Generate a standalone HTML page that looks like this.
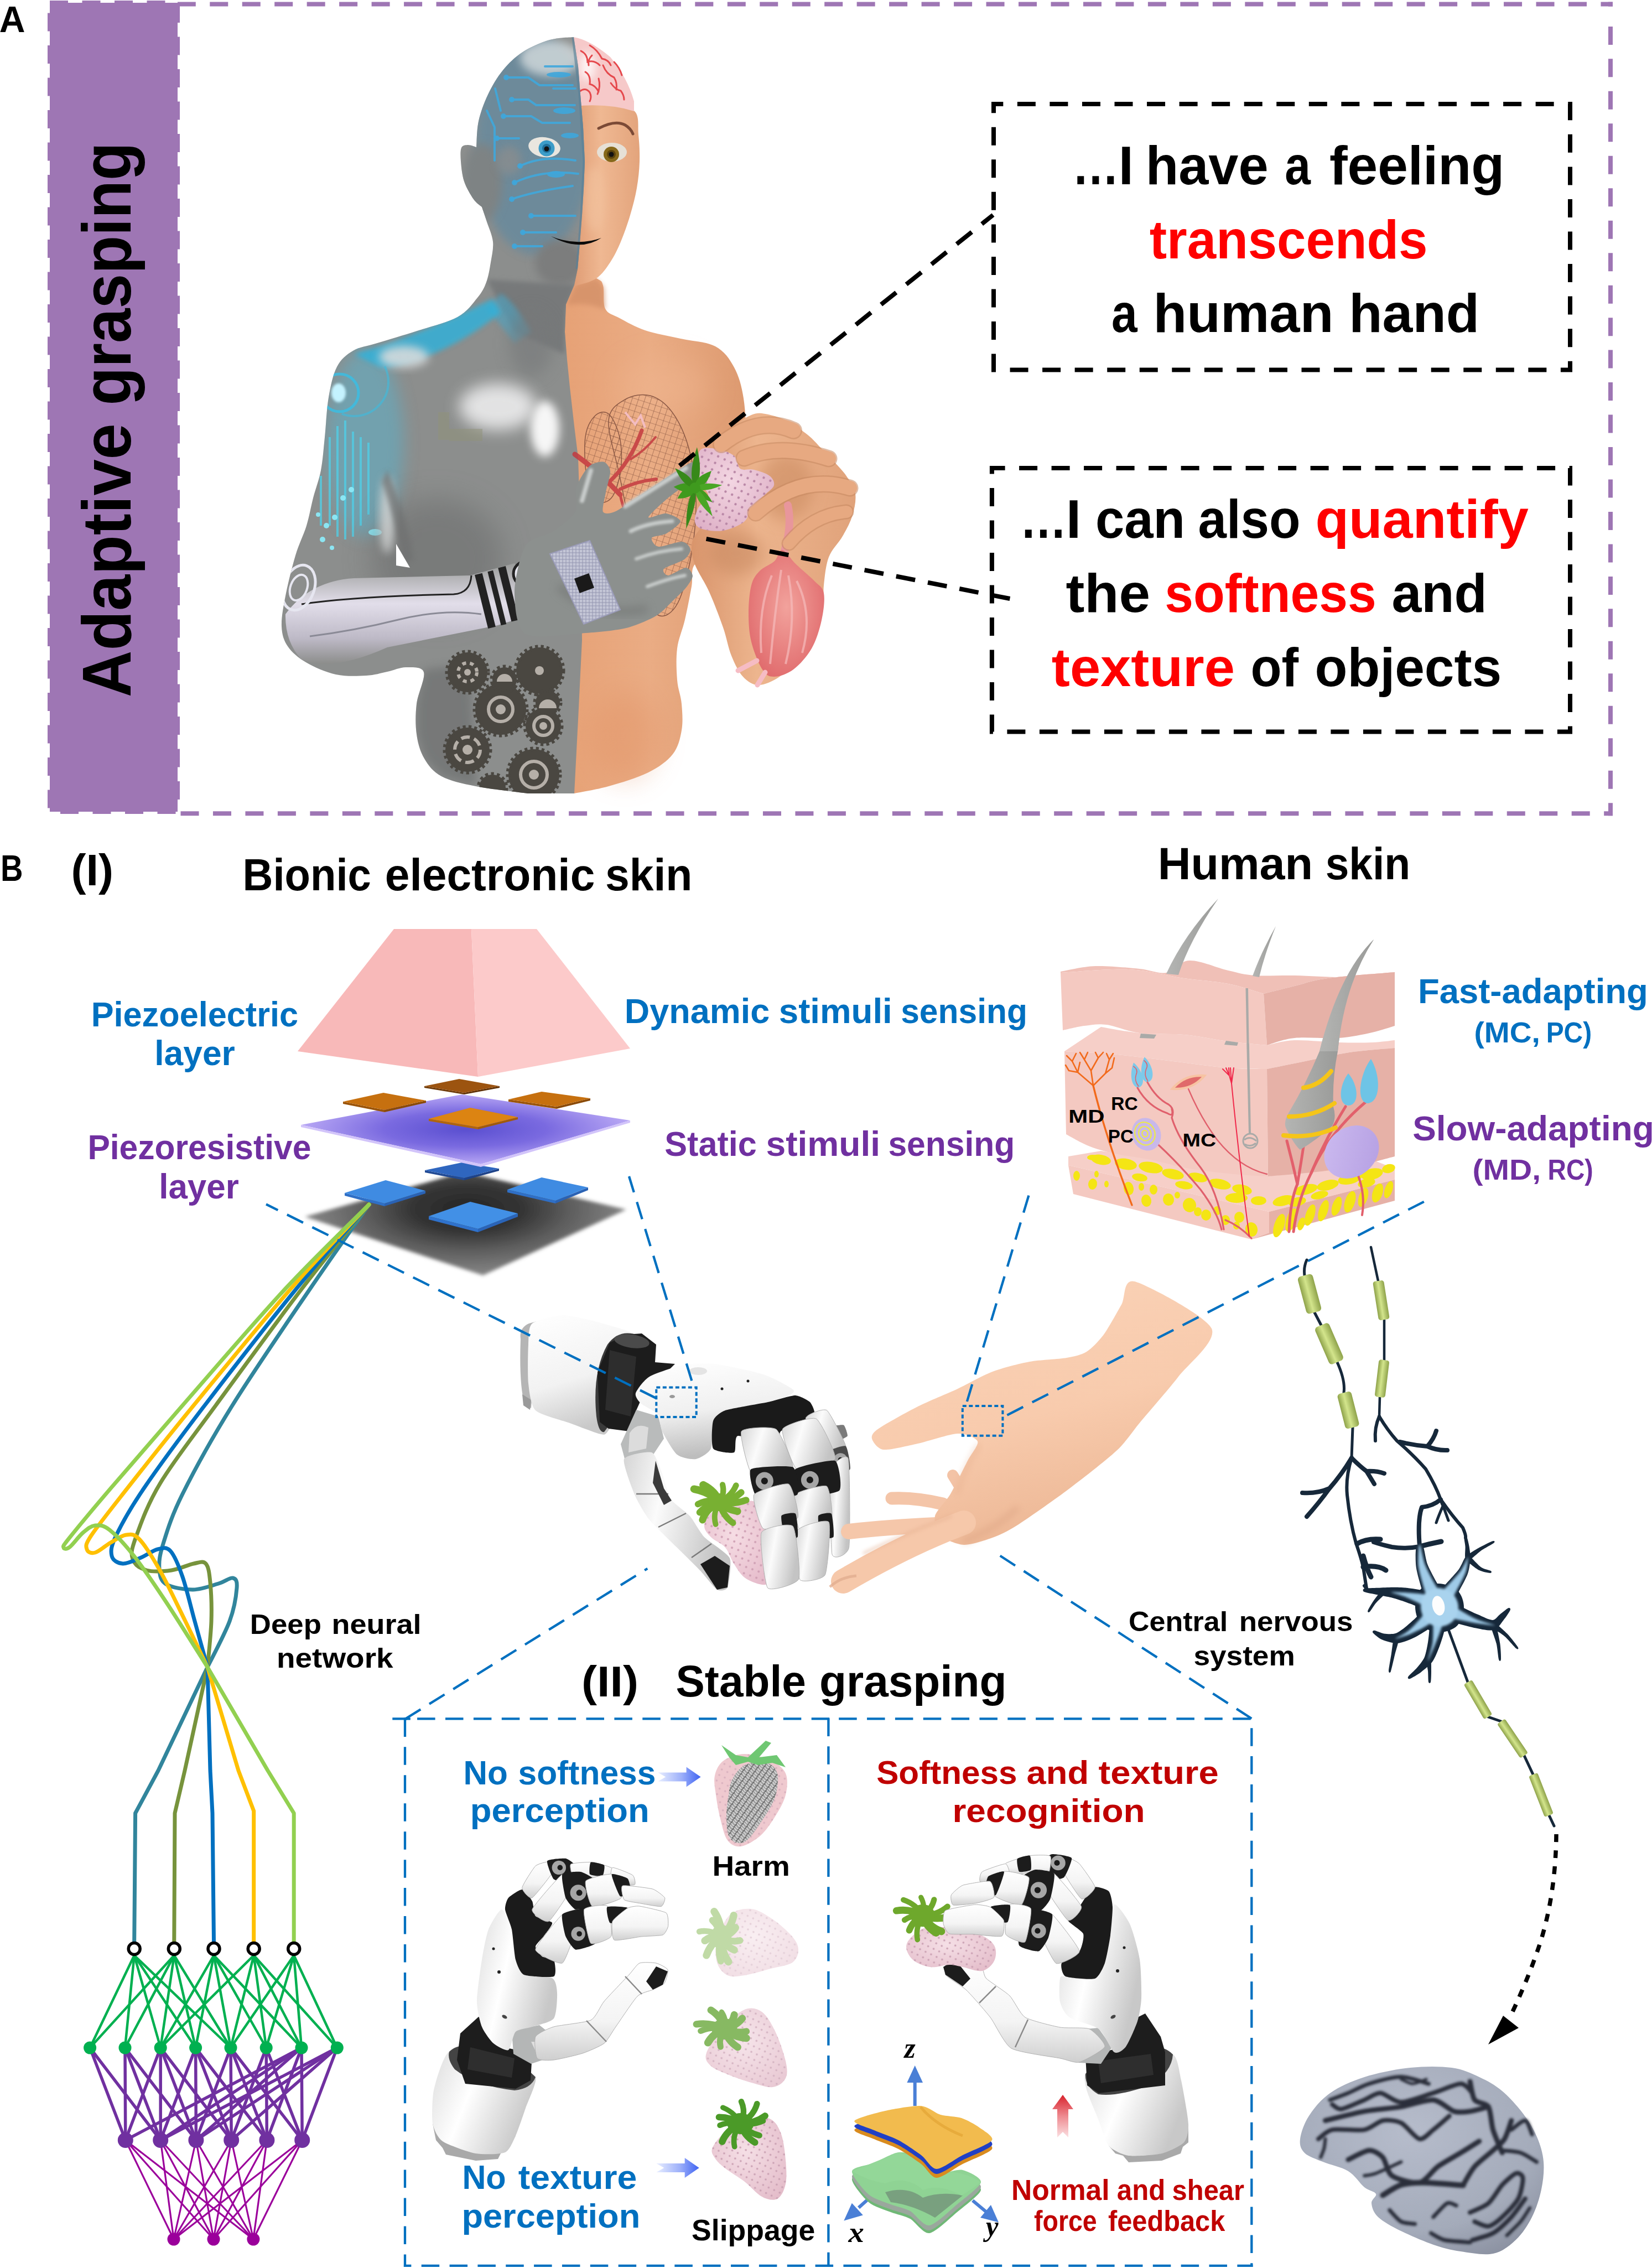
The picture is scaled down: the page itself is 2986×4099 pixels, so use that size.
<!DOCTYPE html>
<html lang="en"><head><meta charset="utf-8"><title>Figure</title>
<style>
html,body{margin:0;padding:0;background:#fff;}
body{width:2986px;height:4099px;overflow:hidden;}
svg{display:block}
text{font-family:"Liberation Sans",sans-serif;font-weight:bold;}
.ser{font-family:"Liberation Serif",serif;font-style:italic;font-weight:bold;}
</style></head><body>
<svg xmlns="http://www.w3.org/2000/svg" width="2986" height="4099" viewBox="0 0 2986 4099">
<!-- 10_frame.svg -->
<rect x="90" y="5" width="231" height="1462" fill="#9E76B4" stroke="#9E76B4" stroke-width="8" stroke-dasharray="33 25.5"/>
<path d="M321 7.6 H2915" fill="none" stroke="#9E76B4" stroke-width="8" stroke-dasharray="33 25.47" stroke-dashoffset="0.20"/>
<path d="M2911 3.6 V11.6" fill="none" stroke="#9E76B4" stroke-width="8" stroke-dasharray="33 25.47" stroke-dashoffset="0.00"/>
<path d="M2911 47.9 V1474.3" fill="none" stroke="#9E76B4" stroke-width="8" stroke-dasharray="33 25.47" stroke-dashoffset="0.00"/>
<path d="M325 1470.3 H2915" fill="none" stroke="#9E76B4" stroke-width="8" stroke-dasharray="33 25.47" stroke-dashoffset="56.97"/>
<path d="M1796 203.8 V188.1 H2838 V668.6 H1796 Z" fill="none" stroke="#000" stroke-width="8" stroke-dasharray="33 25.55"/>
<path d="M1792.9 855.2 V845.9 H2838 V1322.4 H1792.9 Z" fill="none" stroke="#000" stroke-width="8" stroke-dasharray="33 25.5"/>
<!-- 20_humanoid.svg -->
<defs>
<filter id="b2" x="-20%" y="-20%" width="140%" height="140%"><feGaussianBlur stdDeviation="2"/></filter>
<filter id="b4" x="-20%" y="-20%" width="140%" height="140%"><feGaussianBlur stdDeviation="4"/></filter>
<filter id="b8" x="-30%" y="-30%" width="160%" height="160%"><feGaussianBlur stdDeviation="8"/></filter>
<filter id="b14" x="-40%" y="-40%" width="180%" height="180%"><feGaussianBlur stdDeviation="14"/></filter>
<filter id="b25" x="-50%" y="-50%" width="200%" height="200%"><feGaussianBlur stdDeviation="25"/></filter>
<linearGradient id="gSkin" x1="0" y1="0" x2="1" y2="0"><stop offset="0" stop-color="#e6a074"/><stop offset=".5" stop-color="#eaac84"/><stop offset="1" stop-color="#dd9a70"/></linearGradient>
<linearGradient id="gFace" x1="0" y1="0" x2="1" y2="0"><stop offset="0" stop-color="#dd9870"/><stop offset=".45" stop-color="#efb892"/><stop offset="1" stop-color="#e3a47c"/></linearGradient>
<linearGradient id="gArm" x1="0" y1="0" x2="0" y2="1"><stop offset="0" stop-color="#9a9c9a"/><stop offset=".4" stop-color="#e2deea"/><stop offset=".75" stop-color="#bdb9c6"/><stop offset="1" stop-color="#8c8d8b"/></linearGradient>
<linearGradient id="gHArm" x1="0" y1="0" x2="1" y2="0"><stop offset="0" stop-color="#d9956c"/><stop offset=".4" stop-color="#edb58e"/><stop offset="1" stop-color="#e0a27a"/></linearGradient>
<radialGradient id="gMus" cx=".5" cy=".45" r=".6"><stop offset="0" stop-color="#f2a29c"/><stop offset="1" stop-color="#e06a6c"/></radialGradient>
<radialGradient id="gBerry" cx=".45" cy=".4" r=".65"><stop offset="0" stop-color="#f3d6e2"/><stop offset="1" stop-color="#dfb2c8"/></radialGradient>
<pattern id="pDots" width="13" height="13" patternUnits="userSpaceOnUse" patternTransform="rotate(25)"><circle cx="4" cy="4" r="2.2" fill="#b987a6"/></pattern>
<pattern id="pMesh" width="11" height="11" patternUnits="userSpaceOnUse" patternTransform="rotate(18)"><path d="M0 0H11M0 0V11" stroke="#7a4a3a" stroke-width="1.2" fill="none"/></pattern>
<pattern id="pChip" width="6" height="6" patternUnits="userSpaceOnUse"><rect width="6" height="6" fill="#c4c6d6"/><path d="M0 3H6M3 0V6" stroke="#9395b0" stroke-width="1"/></pattern>

<clipPath id="cRob"><path d="M1037.0 67.0 L1045.0 120.0 L1049.0 171.0 L1054.0 230.0 L1057.0 292.0 L1055.0 340.0 L1052.0 389.0 L1048.0 440.0 L1044.0 486.0 L1038.0 515.0 L1023.0 550.0 L1021.0 600.0 L1025.0 650.0 L1030.0 700.0 L1038.0 770.0 L1045.0 827.0 L1047.0 890.0 L1050.0 1000.0 L1052.0 1157.0 L1045.0 1300.0 L1038.0 1434.0 L954.0 1434.0 C938.3 1431.8 886.0 1426.2 860.0 1421.0 C834.0 1415.8 813.5 1411.3 798.0 1403.0 C782.5 1394.7 774.5 1383.7 767.0 1371.0 C759.5 1358.3 755.3 1343.5 753.0 1327.0 C750.7 1310.5 750.8 1290.7 753.0 1272.0 C755.2 1253.3 769.2 1226.0 766.0 1215.0 C762.8 1204.0 745.0 1206.2 734.0 1206.0 C723.0 1205.8 712.0 1211.5 700.0 1214.0 C688.0 1216.5 677.5 1220.2 662.0 1221.0 C646.5 1221.8 625.2 1223.0 607.0 1219.0 C588.8 1215.0 567.5 1205.5 553.0 1197.0 C538.5 1188.5 527.3 1178.8 520.0 1168.0 C512.7 1157.2 509.7 1147.2 509.0 1132.0 C508.3 1116.8 511.8 1098.3 516.0 1077.0 C520.2 1055.7 527.7 1025.2 534.0 1004.0 C540.3 982.8 548.7 967.3 554.0 950.0 C559.3 932.7 561.7 916.7 566.0 900.0 C570.3 883.3 576.5 868.3 580.0 850.0 C583.5 831.7 584.7 812.0 587.0 790.0 C589.3 768.0 590.3 739.2 594.0 718.0 C597.7 696.8 601.7 677.0 609.0 663.0 C616.3 649.0 625.8 641.2 638.0 634.0 C650.2 626.8 662.7 626.0 682.0 620.0 C701.3 614.0 729.8 605.8 754.0 598.0 C778.2 590.2 808.8 583.0 827.0 573.0 C845.2 563.0 854.3 548.5 863.0 538.0 C871.7 527.5 875.0 520.7 879.0 510.0 C883.0 499.3 885.0 486.2 887.0 474.0 C889.0 461.8 892.2 449.2 891.0 437.0 C889.8 424.8 883.3 411.5 880.0 401.0 C876.7 390.5 872.5 378.5 871.0 374.0 L871.0 374.0 C868.5 371.7 861.3 367.7 856.0 360.0 C850.7 352.3 842.8 339.3 839.0 328.0 C835.2 316.7 833.8 302.2 833.0 292.0 C832.2 281.8 831.8 272.0 834.0 267.0 C836.2 262.0 841.5 262.2 846.0 262.0 C850.5 261.8 858.5 265.3 861.0 266.0 L861.0 266.0 C861.7 258.2 861.5 234.8 865.0 219.0 C868.5 203.2 874.7 186.3 882.0 171.0 C889.3 155.7 898.5 139.8 909.0 127.0 C919.5 114.2 930.8 103.2 945.0 94.0 C959.2 84.8 978.7 76.5 994.0 72.0 C1009.3 67.5 1029.8 67.8 1037.0 67.0 Z"/></clipPath>
</defs>
<g id="humanoid">
<path d="M1030.0 480.0 C1038.0 483.8 1068.0 497.0 1078.0 503.0 C1088.0 509.0 1087.3 506.8 1090.0 516.0 C1092.7 525.2 1089.0 548.2 1094.0 558.0 C1099.0 567.8 1108.0 568.5 1120.0 575.0 C1132.0 581.5 1147.7 590.8 1166.0 597.0 C1184.3 603.2 1208.8 607.2 1230.0 612.0 C1251.2 616.8 1276.8 617.3 1293.0 626.0 C1309.2 634.7 1318.5 648.3 1327.0 664.0 C1335.5 679.7 1340.5 697.3 1344.0 720.0 C1347.5 742.7 1348.7 770.0 1348.0 800.0 C1347.3 830.0 1348.0 866.7 1340.0 900.0 C1332.0 933.3 1314.0 980.0 1300.0 1000.0 C1286.0 1020.0 1264.3 1010.0 1256.0 1020.0 C1247.7 1030.0 1253.0 1043.3 1250.0 1060.0 C1247.0 1076.7 1242.3 1101.3 1238.0 1120.0 C1233.7 1138.7 1226.3 1153.8 1224.0 1172.0 C1221.7 1190.2 1222.7 1212.3 1224.0 1229.0 C1225.3 1245.7 1230.7 1256.8 1232.0 1272.0 C1233.3 1287.2 1234.7 1304.8 1232.0 1320.0 C1229.3 1335.2 1226.0 1350.3 1216.0 1363.0 C1206.0 1375.7 1191.3 1386.3 1172.0 1396.0 C1152.7 1405.7 1122.3 1414.7 1100.0 1421.0 C1077.7 1427.3 1048.3 1431.8 1038.0 1434.0 L1020.0 1434.0 L1000.0 900.0 L1000.0 480.0 Z" fill="url(#gSkin)"/>
<ellipse cx="1130" cy="1330" rx="60" ry="80" fill="#e08f62" opacity=".35" filter="url(#b25)"/>
<ellipse cx="1200" cy="700" rx="80" ry="50" fill="#f0b690" opacity=".5" filter="url(#b25)"/>
<path d="M1040 515 L1078 503 L1092 520 L1094 560 Q1060 545 1024 552 Z" fill="#d18e66" opacity=".7" filter="url(#b4)"/>
<path d="M1037.0 185.0 C1047.0 166.7 1071.8 187.5 1090.0 190.0 C1108.2 192.5 1135.3 191.0 1146.0 200.0 C1156.7 209.0 1152.3 228.7 1154.0 244.0 C1155.7 259.3 1156.5 276.0 1156.0 292.0 C1155.5 308.0 1153.8 323.8 1151.0 340.0 C1148.2 356.2 1143.8 372.8 1139.0 389.0 C1134.2 405.2 1128.0 422.8 1122.0 437.0 C1116.0 451.2 1110.3 463.0 1103.0 474.0 C1095.7 485.0 1088.2 496.0 1078.0 503.0 C1067.8 510.0 1050.0 513.8 1042.0 516.0 C1034.0 518.2 1032.0 552.0 1030.0 516.0 C1028.0 480.0 1028.8 355.2 1030.0 300.0 C1031.2 244.8 1027.0 203.3 1037.0 185.0 Z" fill="url(#gFace)"/>
<ellipse cx="1075" cy="360" rx="18" ry="60" fill="#f3c4a0" opacity=".6" filter="url(#b8)"/>
<path d="M1037 67 Q1066 72 1103 103 Q1134 140 1146 183 L1146 201 Q1100 186 1037 192 Z" fill="#f6c9c9"/>
<ellipse cx="1062" cy="120" rx="14" ry="26" fill="#fff" opacity=".8" filter="url(#b8)"/>
<g fill="none" stroke="#e5484c" stroke-width="3" stroke-linecap="round">
<path d="M1050 92 q12 6 12 20 q12 -4 22 6 M1066 82 q14 8 22 24 q12 2 16 12 M1058 130 q10 6 8 22 q10 2 16 14 M1090 118 q6 16 20 22 q6 10 4 22 M1048 165 q10 -8 18 2 q4 8 0 16 M1104 150 q8 12 18 14 q6 8 6 16 M1082 142 q4 14 -2 28 M1110 112 q10 10 14 24 M1070 100 q-8 8 -6 18"/>
</g>
<g clip-path="url(#cRob)">
<rect x="480" y="50" width="600" height="1400" fill="#8c8e8d"/>
<ellipse cx="965" cy="260" rx="105" ry="200" fill="#668a9e" opacity=".8" filter="url(#b8)"/>
<ellipse cx="995" cy="105" rx="55" ry="32" fill="#d5dcde" opacity=".8" filter="url(#b8)"/>
<ellipse cx="1012" cy="475" rx="45" ry="42" fill="#7b7d7d" filter="url(#b8)"/>
<ellipse cx="872" cy="330" rx="36" ry="70" fill="#7e8384" filter="url(#b8)"/>
<ellipse cx="920" cy="290" rx="22" ry="26" fill="#8a8d8e" opacity=".8" filter="url(#b8)"/>
<g fill="none" stroke="#3fa7dc" stroke-width="4" stroke-linecap="round" opacity=".9">
<path d="M915 140 h40 l20 14 h60 M925 180 h30 l14 10 h70 M910 210 h50 l20 12 h50 M898 250 h40 M940 300 q40 -20 100 -10 M930 330 q50 -24 115 -16 M925 360 q40 -14 110 -24 M960 390 h80 M945 420 h60 M930 445 h50 M985 120 h50 M1000 160 h40 M880 200 l14 30 v60 M895 160 l10 40"/>
</g>
<g fill="#3fa7dc" opacity=".9"><circle cx="915" cy="140" r="5"/><circle cx="925" cy="180" r="5"/><circle cx="910" cy="210" r="5"/><circle cx="898" cy="250" r="5"/><circle cx="940" cy="300" r="5"/><circle cx="930" cy="330" r="5"/><circle cx="925" cy="360" r="5"/><circle cx="960" cy="390" r="5"/><circle cx="945" cy="420" r="5"/><circle cx="930" cy="445" r="5"/><ellipse cx="1020" cy="200" rx="20" ry="6"/><ellipse cx="1030" cy="245" rx="16" ry="5"/><ellipse cx="1010" cy="135" rx="22" ry="5"/><ellipse cx="1005" cy="315" rx="16" ry="6"/></g>
<path d="M880 505 L1040 515 L1023 560 L1020 640 L930 600 Z" fill="#77797a" filter="url(#b4)"/>
<path d="M905 530 Q930 545 960 600 L930 620 Q900 580 880 560 Z" fill="#4aa5c6" opacity=".6" filter="url(#b4)"/>
<ellipse cx="660" cy="800" rx="70" ry="170" fill="#59b4cf" opacity=".5" filter="url(#b14)"/>
<path d="M640 640 Q760 605 890 540 L905 565 Q800 650 690 665 Z" fill="#2fb2dc" opacity=".8" filter="url(#b4)"/>
<ellipse cx="730" cy="645" rx="45" ry="20" fill="#d5dadb" opacity=".9" filter="url(#b8)"/>
<ellipse cx="612" cy="710" rx="13" ry="17" fill="#c4f3ff" filter="url(#b2)"/>
<circle cx="614" cy="710" r="34" fill="none" stroke="#37bfe6" stroke-width="5" opacity=".8"/><circle cx="640" cy="690" r="62" fill="none" stroke="#37bfe6" stroke-width="4" opacity=".55" stroke-dasharray="120 60"/>
<g stroke="#4fd0e8" stroke-width="4" opacity=".75" fill="none"><path d="M596 790 v160 M610 770 v200 M624 760 v215 M638 780 v190 M652 790 v160 M666 800 v130 M580 860 v90"/></g>
<g fill="#8deaf8" opacity=".95"><circle cx="590" cy="950" r="5"/><circle cx="605" cy="935" r="5"/><circle cx="620" cy="900" r="5"/><circle cx="583" cy="975" r="5"/><circle cx="635" cy="885" r="5"/><circle cx="575" cy="930" r="4"/><ellipse cx="678" cy="962" rx="12" ry="6"/><circle cx="600" cy="990" r="4"/></g>
<ellipse cx="790" cy="1010" rx="120" ry="110" fill="#6a6c6c" opacity=".55" filter="url(#b25)"/>
<ellipse cx="960" cy="620" rx="40" ry="60" fill="#77797a" opacity=".6" filter="url(#b14)"/>
<ellipse cx="900" cy="735" rx="70" ry="42" fill="#ececed" opacity=".9" filter="url(#b14)"/>
<ellipse cx="985" cy="775" rx="26" ry="50" fill="#f6f6f6" filter="url(#b8)"/>
<ellipse cx="700" cy="930" rx="14" ry="70" fill="#cfd1d1" opacity=".85" filter="url(#b8)"/>
<path d="M700 850 Q735 930 747 1010 L730 1020 Q715 940 690 870 Z" fill="#6f7171" opacity=".7" filter="url(#b4)"/>
<path d="M716 983 L741 1026 L716 1022 Z" fill="#fff"/>
<rect x="792" y="745" width="20" height="50" fill="#8f9178" opacity=".5"/><rect x="812" y="775" width="60" height="22" fill="#8f9178" opacity=".5"/>
<path d="M516 1110 Q560 1050 640 1045 L850 1040 L930 1018 L980 1105 L900 1130 L700 1170 Q600 1215 545 1192 Q515 1160 516 1110 Z" fill="url(#gArm)"/>
<path d="M545 1092 Q640 1078 820 1074 Q850 1072 852 1040" fill="none" stroke="#222" stroke-width="3"/>
<path d="M560 1150 Q640 1140 720 1120 Q800 1100 870 1110" fill="none" stroke="#8a8a96" stroke-width="3"/>
<g transform="rotate(20 540 1062)" fill="none" stroke="#e6e6f0"><ellipse cx="540" cy="1062" rx="28" ry="42" stroke-width="5"/><ellipse cx="540" cy="1062" rx="15" ry="24" stroke-width="4"/></g>
<g transform="rotate(-14 900 1075)" fill="#222"><rect x="868" y="1030" width="14" height="100"/><rect x="892" y="1030" width="10" height="100"/><rect x="912" y="1028" width="14" height="100"/></g>
<circle cx="950" cy="1037" r="22" fill="#e8e8f0" stroke="#222" stroke-width="5"/><circle cx="950" cy="1037" r="9" fill="#222"/>
<path d="M766 1210 L753 1272 L753 1327 L767 1371 L798 1403 L860 1421 L850 1200 Z" fill="#6c6e6e" opacity=".65" filter="url(#b8)"/>
<g fill="#4a4741" stroke="#4a4741" stroke-width="9" stroke-dasharray="5 5">
<circle cx="845" cy="1215" r="36"/><circle cx="975" cy="1212" r="42"/><circle cx="905" cy="1282" r="46"/><circle cx="982" cy="1312" r="32"/><circle cx="845" cy="1355" r="40"/><circle cx="965" cy="1400" r="46"/><circle cx="912" cy="1228" r="22"/><circle cx="890" cy="1424" r="24"/><circle cx="990" cy="1270" r="22"/>
</g>
<g fill="#b5afa8"><circle cx="975" cy="1212" r="8"/><circle cx="905" cy="1282" r="9"/><circle cx="982" cy="1312" r="7"/><circle cx="845" cy="1355" r="9"/><circle cx="965" cy="1400" r="9"/><circle cx="845" cy="1215" r="6"/><path d="M898 1232 a14 14 0 0 1 28 0 Z"/><path d="M974 1280 a16 16 0 0 1 32 0 Z"/></g>
<g fill="none" stroke="#b5afa8" stroke-width="6"><circle cx="905" cy="1282" r="22"/><circle cx="982" cy="1312" r="17"/><circle cx="965" cy="1400" r="24"/><circle cx="845" cy="1355" r="23" stroke-dasharray="16 8"/><circle cx="845" cy="1215" r="17" stroke-dasharray="7 7"/></g>
<path d="M1037 67 L1049 171 L1057 292 L1052 389 L1044 486" fill="none" stroke="#56809a" stroke-width="7" opacity=".6"/>
</g>
<ellipse cx="984" cy="266" rx="29" ry="18" fill="#e9e6df" transform="rotate(8 984 266)"/><circle cx="988" cy="268" r="14.5" fill="#3c9cc8"/><circle cx="988" cy="268" r="8" fill="#1f6f9a"/><circle cx="988" cy="269" r="4.5" fill="#111"/>
<ellipse cx="1106" cy="275" rx="27" ry="17" fill="#e6e0d6"/><circle cx="1105" cy="279" r="14" fill="#86681a"/><circle cx="1105" cy="279" r="8" fill="#5a430c"/><circle cx="1105" cy="279" r="4.5" fill="#111"/>
<path d="M1082 232 Q1112 216 1130 226 Q1140 232 1144 242" fill="none" stroke="#7b4a36" stroke-width="5" stroke-linecap="round"/>
<path d="M996 427 Q1042 446 1087 430 Q1048 456 996 427 Z" fill="#0a0a0a"/>
<g opacity=".85">
<path d="M1100.0 760.0 C1101.7 737.0 1117.5 729.5 1130.0 722.0 C1142.5 714.5 1160.8 711.2 1175.0 715.0 C1189.2 718.8 1203.3 729.2 1215.0 745.0 C1226.7 760.8 1237.8 784.2 1245.0 810.0 C1252.2 835.8 1257.2 868.3 1258.0 900.0 C1258.8 931.7 1255.5 968.3 1250.0 1000.0 C1244.5 1031.7 1235.0 1071.3 1225.0 1090.0 C1215.0 1108.7 1200.8 1117.0 1190.0 1112.0 C1179.2 1107.0 1168.3 1085.3 1160.0 1060.0 C1151.7 1034.7 1146.7 993.3 1140.0 960.0 C1133.3 926.7 1126.7 893.3 1120.0 860.0 C1113.3 826.7 1098.3 783.0 1100.0 760.0 Z" fill="url(#pMesh)" stroke="#7a4a3a" stroke-width="1.5"/>
<path d="M1058.0 790.0 C1060.5 772.0 1068.0 759.0 1075.0 752.0 C1082.0 745.0 1092.5 741.7 1100.0 748.0 C1107.5 754.3 1116.3 773.0 1120.0 790.0 C1123.7 807.0 1124.5 831.7 1122.0 850.0 C1119.5 868.3 1112.8 890.8 1105.0 900.0 C1097.2 909.2 1082.5 911.7 1075.0 905.0 C1067.5 898.3 1062.8 879.2 1060.0 860.0 C1057.2 840.8 1055.5 808.0 1058.0 790.0 Z" fill="url(#pMesh)" stroke="#7a4a3a" stroke-width="1.5"/>
<g fill="none" stroke="#c43a40" stroke-linecap="round"><path d="M1039 821 Q1080 850 1121 894" stroke-width="9"/><path d="M1100 872 Q1140 835 1160 778" stroke-width="7"/><path d="M1121 884 Q1150 870 1186 866" stroke-width="6"/><path d="M1140 830 Q1165 815 1185 790" stroke-width="4"/><path d="M1121 894 Q1128 930 1150 960" stroke-width="5"/></g>
<path d="M1130 745 l18 22 l10 -16 l8 22" fill="none" stroke="#f5c0cc" stroke-width="4"/>
</g>
<path d="M1294.0 798.0 C1297.7 781.8 1311.3 781.0 1322.0 773.0 C1332.7 765.0 1347.8 754.2 1358.0 750.0 C1368.2 745.8 1372.5 746.3 1383.0 748.0 C1393.5 749.7 1408.2 753.7 1421.0 760.0 C1433.8 766.3 1449.3 777.5 1460.0 786.0 C1470.7 794.5 1476.7 802.5 1485.0 811.0 C1493.3 819.5 1502.3 828.5 1510.0 837.0 C1517.7 845.5 1525.0 852.8 1531.0 862.0 C1537.0 871.2 1544.3 880.5 1546.0 892.0 C1547.7 903.5 1544.8 918.2 1541.0 931.0 C1537.2 943.8 1530.2 956.3 1523.0 969.0 C1515.8 981.7 1503.7 992.2 1498.0 1007.0 C1492.3 1021.8 1490.7 1043.2 1489.0 1058.0 C1487.3 1072.8 1490.8 1081.2 1488.0 1096.0 C1485.2 1110.8 1478.8 1132.2 1472.0 1147.0 C1465.2 1161.8 1457.5 1172.3 1447.0 1185.0 C1436.5 1197.7 1421.7 1214.2 1409.0 1223.0 C1396.3 1231.8 1382.0 1238.0 1371.0 1238.0 C1360.0 1238.0 1351.2 1231.8 1343.0 1223.0 C1334.8 1214.2 1328.0 1199.8 1322.0 1185.0 C1316.0 1170.2 1313.7 1153.2 1307.0 1134.0 C1300.3 1114.8 1290.5 1089.0 1282.0 1070.0 C1273.5 1051.0 1261.3 1034.2 1256.0 1020.0 C1250.7 1005.8 1249.0 995.0 1250.0 985.0 C1251.0 975.0 1255.3 969.2 1262.0 960.0 C1268.7 950.8 1283.7 945.0 1290.0 930.0 C1296.3 915.0 1299.3 892.0 1300.0 870.0 C1300.7 848.0 1290.3 814.2 1294.0 798.0 Z" fill="url(#gHArm)"/>
<ellipse cx="1330" cy="1000" rx="50" ry="40" fill="#c98a62" opacity=".6" filter="url(#b14)"/>
<ellipse cx="1420" cy="880" rx="50" ry="60" fill="#c9895f" opacity=".55" filter="url(#b14)"/>
<path d="M1424 913 Q1432 950 1418 996" fill="none" stroke="#e8969c" stroke-width="14" stroke-linecap="round"/>
<path d="M1414.0 994.0 C1420.5 995.0 1429.3 1010.7 1439.0 1020.0 C1448.7 1029.3 1463.7 1041.3 1472.0 1050.0 C1480.3 1058.7 1486.8 1060.2 1489.0 1072.0 C1491.2 1083.8 1488.7 1104.3 1485.0 1121.0 C1481.3 1137.7 1475.5 1157.2 1467.0 1172.0 C1458.5 1186.8 1445.3 1201.5 1434.0 1210.0 C1422.7 1218.5 1408.3 1223.0 1399.0 1223.0 C1389.7 1223.0 1384.8 1220.5 1378.0 1210.0 C1371.2 1199.5 1362.2 1177.0 1358.0 1160.0 C1353.8 1143.0 1353.0 1125.0 1353.0 1108.0 C1353.0 1091.0 1354.7 1070.7 1358.0 1058.0 C1361.3 1045.3 1366.0 1039.3 1373.0 1032.0 C1380.0 1024.7 1393.2 1020.3 1400.0 1014.0 C1406.8 1007.7 1407.5 993.0 1414.0 994.0 Z" fill="url(#gMus)"/>
<g fill="none" stroke="#f6bcbc" stroke-width="4" opacity=".7"><path d="M1412 1030 Q1400 1110 1392 1200"/><path d="M1425 1040 Q1440 1120 1420 1200"/><path d="M1440 1050 Q1470 1110 1450 1180"/><path d="M1395 1040 Q1370 1100 1376 1180"/></g>
<path d="M1368 1194 L1334 1212" stroke="#f6bcc4" stroke-width="9" stroke-linecap="round"/><path d="M1383 1215 L1369 1238" stroke="#f6bcc4" stroke-width="9" stroke-linecap="round"/>
<path d="M1264.0 816.0 C1269.0 806.5 1283.5 809.7 1294.0 811.0 C1304.5 812.3 1319.7 818.0 1327.0 824.0 C1334.3 830.0 1332.0 842.8 1338.0 847.0 C1344.0 851.2 1354.2 846.8 1363.0 849.0 C1371.8 851.2 1385.0 855.3 1391.0 860.0 C1397.0 864.7 1400.2 871.5 1399.0 877.0 C1397.8 882.5 1390.8 886.2 1384.0 893.0 C1377.2 899.8 1364.5 909.7 1358.0 918.0 C1351.5 926.3 1353.5 936.2 1345.0 943.0 C1336.5 949.8 1319.7 956.8 1307.0 959.0 C1294.3 961.2 1277.5 958.7 1269.0 956.0 C1260.5 953.3 1257.2 949.3 1256.0 943.0 C1254.8 936.7 1258.0 926.0 1262.0 918.0 C1266.0 910.0 1279.7 903.3 1280.0 895.0 C1280.3 886.7 1266.7 881.2 1264.0 868.0 C1261.3 854.8 1259.0 825.5 1264.0 816.0 Z" fill="url(#gBerry)"/><path d="M1264.0 816.0 C1269.0 806.5 1283.5 809.7 1294.0 811.0 C1304.5 812.3 1319.7 818.0 1327.0 824.0 C1334.3 830.0 1332.0 842.8 1338.0 847.0 C1344.0 851.2 1354.2 846.8 1363.0 849.0 C1371.8 851.2 1385.0 855.3 1391.0 860.0 C1397.0 864.7 1400.2 871.5 1399.0 877.0 C1397.8 882.5 1390.8 886.2 1384.0 893.0 C1377.2 899.8 1364.5 909.7 1358.0 918.0 C1351.5 926.3 1353.5 936.2 1345.0 943.0 C1336.5 949.8 1319.7 956.8 1307.0 959.0 C1294.3 961.2 1277.5 958.7 1269.0 956.0 C1260.5 953.3 1257.2 949.3 1256.0 943.0 C1254.8 936.7 1258.0 926.0 1262.0 918.0 C1266.0 910.0 1279.7 903.3 1280.0 895.0 C1280.3 886.7 1266.7 881.2 1264.0 868.0 C1261.3 854.8 1259.0 825.5 1264.0 816.0 Z" fill="url(#pDots)"/>
<g fill="none" stroke-linecap="round">
<path d="M1434 778 Q1371 750 1304 803" stroke="#c78860" stroke-width="32" opacity=".55"/>
<path d="M1434 778 Q1371 750 1304 803" stroke="#e7a981" stroke-width="27"/>
<path d="M1498 829 Q1409 800 1345 828" stroke="#c78860" stroke-width="31" opacity=".55"/>
<path d="M1498 829 Q1409 800 1345 828" stroke="#e7a981" stroke-width="26"/>
<path d="M1536 882 Q1447 855 1366 927" stroke="#c78860" stroke-width="31" opacity=".55"/>
<path d="M1536 882 Q1447 855 1366 927" stroke="#e7a981" stroke-width="26"/>
<path d="M1530 925 Q1470 930 1426 982" stroke="#c78860" stroke-width="27" opacity=".55"/>
<path d="M1530 925 Q1470 930 1426 982" stroke="#e7a981" stroke-width="22"/>
</g>
<path d="M950.0 986.0 C959.3 971.3 988.0 968.1 1000.0 960.0 C1012.0 951.9 1034.5 935.1 1040.0 925.0 C1045.5 914.9 1039.0 893.3 1041.0 884.0 C1043.0 874.7 1051.1 861.0 1055.0 855.0 C1058.9 849.0 1065.1 841.7 1070.0 839.0 C1074.9 836.3 1087.6 833.3 1092.0 835.0 C1096.4 836.7 1102.6 844.7 1103.0 852.0 C1103.4 859.3 1096.7 880.3 1095.0 890.0 C1093.3 899.7 1087.6 920.5 1090.0 925.0 C1092.4 929.5 1102.6 928.9 1113.0 924.0 C1123.4 919.1 1153.5 897.6 1168.0 888.0 C1182.5 878.4 1210.8 859.1 1222.0 852.0 C1233.2 844.9 1246.5 835.9 1252.0 835.0 C1257.5 834.1 1262.6 841.3 1263.0 845.0 C1263.4 848.7 1262.9 855.3 1255.0 863.0 C1247.1 870.7 1215.1 893.4 1204.0 903.0 C1192.9 912.6 1172.0 931.7 1172.0 935.0 C1172.0 938.3 1196.3 927.1 1204.0 928.0 C1211.7 928.9 1229.9 937.2 1230.0 942.0 C1230.1 946.8 1211.9 960.0 1205.0 964.0 C1198.1 968.0 1180.0 968.8 1178.0 972.0 C1176.0 975.2 1182.7 987.1 1190.0 988.0 C1197.3 988.9 1225.3 978.3 1233.0 979.0 C1240.7 979.7 1247.5 988.7 1248.0 993.0 C1248.5 997.3 1243.4 1006.3 1237.0 1011.0 C1230.6 1015.7 1203.9 1024.1 1200.0 1028.0 C1196.1 1031.9 1202.7 1040.3 1208.0 1040.0 C1213.3 1039.7 1234.1 1025.9 1240.0 1026.0 C1245.9 1026.1 1252.0 1036.2 1252.0 1041.0 C1252.0 1045.8 1244.5 1056.3 1240.0 1062.0 C1235.5 1067.7 1225.2 1077.2 1218.0 1084.0 C1210.8 1090.8 1197.5 1106.2 1186.0 1113.0 C1174.5 1119.8 1148.9 1130.9 1132.0 1135.0 C1115.1 1139.1 1083.3 1142.5 1059.0 1144.0 C1034.7 1145.5 967.2 1155.9 950.0 1146.0 C932.8 1136.1 930.0 1091.3 930.0 1070.0 C930.0 1048.7 940.7 1000.7 950.0 986.0 Z" fill="#8c908e"/>
<g fill="none" stroke="#c9cdcc" stroke-linecap="round" filter="url(#b2)"><path d="M1130 915 L1240 846" stroke-width="8"/><path d="M1068 850 L1052 905" stroke-width="8"/><path d="M1140 960 Q1170 945 1215 942" stroke-width="7"/><path d="M1150 1010 Q1190 995 1232 992" stroke-width="6"/><path d="M1170 1060 Q1210 1045 1238 1040" stroke-width="6"/></g>
<path d="M1010 1060 Q1080 1120 1170 1100" fill="none" stroke="#6f7271" stroke-width="14" opacity=".6" filter="url(#b8)"/>
<path d="M994 1001 L1066 977 L1121 1102 L1055 1128 Z" fill="url(#pChip)" stroke="#9a9bb8" stroke-width="2"/>
<rect x="1042" y="1040" width="28" height="28" fill="#1a1a1a" transform="rotate(-20 1056 1054)"/>
<g transform="translate(1256 882) rotate(3)"><path d="M0 0 Q14.975967827828484 -18 0 -59 Q-14.975967827828484 -18 0 0 Z" fill="#37891a" transform="scale(1 1.25)"/></g>
<g transform="translate(1256 882) rotate(44)"><path d="M0 0 Q15.201740602613338 -17 0 -54 Q-15.201740602613338 -17 0 0 Z" fill="#3f9a1e" transform="scale(1 0.8)"/></g>
<g transform="translate(1256 882) rotate(84)"><path d="M0 0 Q11.566029823265723 -19 0 -62 Q-11.566029823265723 -19 0 0 Z" fill="#4aa626" transform="scale(1 0.8)"/></g>
<g transform="translate(1256 882) rotate(129)"><path d="M0 0 Q11.509872010869577 -16 0 -51 Q-11.509872010869577 -16 0 0 Z" fill="#3f9a1e" transform="scale(1 0.8)"/></g>
<g transform="translate(1256 882) rotate(148)"><path d="M0 0 Q12.397411830055551 -15 0 -48 Q-12.397411830055551 -15 0 0 Z" fill="#4aa626" transform="scale(1 1.25)"/></g>
<g transform="translate(1256 882) rotate(192)"><path d="M0 0 Q11.693837091994515 -19 0 -60 Q-11.693837091994515 -19 0 0 Z" fill="#37891a" transform="scale(1 1.25)"/></g>
<g transform="translate(1256 882) rotate(239)"><path d="M0 0 Q15.861686448432682 -14 0 -46 Q-15.861686448432682 -14 0 0 Z" fill="#3f9a1e" transform="scale(1 0.8)"/></g>
<g transform="translate(1256 882) rotate(273)"><path d="M0 0 Q15.912105544129627 -15 0 -48 Q-15.912105544129627 -15 0 0 Z" fill="#3f9a1e" transform="scale(1 0.8)"/></g>
<g transform="translate(1256 882) rotate(315)"><path d="M0 0 Q13.696117344354054 -20 0 -63 Q-13.696117344354054 -20 0 0 Z" fill="#37891a" transform="scale(1 0.8)"/></g>
<circle cx="1256" cy="882" r="10" fill="#3f9a1e"/>
</g>
<!-- 25_leaders.svg -->
<g id="leaders" fill="none" stroke="#000" stroke-width="8" stroke-dasharray="35 23.3">
<path d="M1228.3 841.7 L1795 388.5"/>
<path d="M1276.6 973.9 L1825.4 1082"/>
</g>

<!-- 30_eskin.svg -->
<defs>
<radialGradient id="gPurSheet" cx=".5" cy=".5" r=".55"><stop offset="0" stop-color="#5a4fd0"/><stop offset=".45" stop-color="#7a6ae0"/><stop offset="1" stop-color="#c3b2f8"/></radialGradient>
<radialGradient id="gGraySheet" gradientUnits="userSpaceOnUse" cx="845" cy="2185" r="330" gradientTransform="translate(0 1289) scale(1 0.41)"><stop offset="0" stop-color="#262626"/><stop offset=".3" stop-color="#343434"/><stop offset=".55" stop-color="#5c5c5c"/><stop offset=".8" stop-color="#7c7c7c"/><stop offset="1" stop-color="#929292"/></radialGradient>
<filter id="e3" x="-10%" y="-10%" width="120%" height="120%"><feGaussianBlur stdDeviation="3"/></filter>
<filter id="e6" x="-10%" y="-20%" width="120%" height="140%"><feGaussianBlur stdDeviation="6"/></filter>
</defs>
<g id="eskin">
<path d="M551 2199 L839 2118 L1132 2186 L873 2305 Z" fill="url(#gGraySheet)" filter="url(#e3)"/>
<path d="M768 2115 L839 2129 L839 2133 L768 2119 Z" fill="#214a94"/><path d="M902 2112 L839 2129 L839 2133 L902 2116 Z" fill="#1d4288"/><path d="M768 2115 L835 2101 L902 2112 L839 2129 Z" fill="#2f66bf"/>
<path d="M623 2156 L695 2175 L695 2180 L623 2161 Z" fill="#2f6fc6"/><path d="M769 2152 L695 2175 L695 2180 L769 2157 Z" fill="#2a62b4"/><path d="M623 2156 L697 2133 L769 2152 L695 2175 Z" fill="#3f8be2"/>
<path d="M917 2150 L1004 2170 L1004 2175 L917 2155 Z" fill="#2f6fc6"/><path d="M1063 2146 L1004 2170 L1004 2175 L1063 2151 Z" fill="#2a62b4"/><path d="M917 2150 L979 2128 L1063 2146 L1004 2170 Z" fill="#3f8be2"/>
<path d="M775 2198 L864 2221 L864 2227 L775 2204 Z" fill="#2f72cc"/><path d="M936 2193 L864 2221 L864 2227 L936 2199 Z" fill="#2a64b8"/><path d="M775 2198 L850 2172 L936 2193 L864 2221 Z" fill="#4290e6"/>
<path d="M544 2033 L835 1978 L1139 2025 L869 2104 Z" fill="url(#gPurSheet)"/>
<path d="M544 2033 L869 2104 L1139 2025 L1139 2029 L869 2109 L544 2037 Z" fill="#d2c4fa"/>
<path d="M767 1963 L839 1975 L839 1978 L767 1966 Z" fill="#6e3a08"/><path d="M903 1963 L839 1975 L839 1978 L903 1966 Z" fill="#5e3006"/><path d="M767 1963 L830 1950 L903 1963 L839 1975 Z" fill="#9c5410"/>
<path d="M620 1991 L695 2006 L695 2010 L620 1995 Z" fill="#9a540a"/><path d="M770 1989 L695 2006 L695 2010 L770 1993 Z" fill="#8a4a08"/><path d="M620 1991 L693 1975 L770 1989 L695 2006 Z" fill="#c6700f"/>
<path d="M919 1987 L1006 2000 L1006 2004 L919 1991 Z" fill="#9a540a"/><path d="M1067 1985 L1006 2000 L1006 2004 L1067 1989 Z" fill="#8a4a08"/><path d="M919 1987 L979 1973 L1067 1985 L1006 2000 Z" fill="#c6700f"/>
<path d="M775 2022 L864 2037 L864 2041 L775 2026 Z" fill="#b0650c"/><path d="M936 2019 L864 2037 L864 2041 L936 2023 Z" fill="#a05a0a"/><path d="M775 2022 L850 2002 L936 2019 L864 2037 Z" fill="#dc8412"/>
<path d="M712 1679 L852 1679 L864 1946 L538 1900 Z" fill="#f8b9b9"/>
<path d="M852 1679 L970 1679 L1139 1895 L864 1946 Z" fill="#fccaca"/>
</g>
<!-- 40_nn.svg -->
<g id="nn" fill="none" stroke-linecap="round" stroke-linejoin="round">
<path d="M667.0 2177.0 C649.2 2202.5 601.2 2269.5 560.0 2330.0 C518.8 2390.5 458.3 2478.3 420.0 2540.0 C381.7 2601.7 350.8 2658.3 330.0 2700.0 C309.2 2741.7 302.0 2767.5 295.0 2790.0 C288.0 2812.5 287.2 2822.8 288.0 2835.0 C288.8 2847.2 289.8 2856.7 300.0 2863.0 C310.2 2869.3 333.2 2873.2 349.0 2873.0 C364.8 2872.8 383.0 2865.5 395.0 2862.0 C407.0 2858.5 415.5 2850.7 421.0 2852.0 C426.5 2853.3 429.0 2857.0 428.0 2870.0 C427.0 2883.0 423.8 2906.2 415.0 2930.0 C406.2 2953.8 381.7 2999.2 375.0 3013.0 L286 3200 L244.6 3277 L242.7 3509" stroke="#31859C" stroke-width="7"/>
<path d="M667.0 2177.0 C646.7 2202.5 591.2 2269.5 545.0 2330.0 C498.8 2390.5 432.5 2481.7 390.0 2540.0 C347.5 2598.3 314.2 2640.0 290.0 2680.0 C265.8 2720.0 253.3 2757.0 245.0 2780.0 C236.7 2803.0 236.7 2808.3 240.0 2818.0 C243.3 2827.7 253.3 2834.7 265.0 2838.0 C276.7 2841.3 295.8 2840.0 310.0 2838.0 C324.2 2836.0 339.7 2828.0 350.0 2826.0 C360.3 2824.0 367.0 2820.3 372.0 2826.0 C377.0 2831.7 378.3 2842.7 380.0 2860.0 C381.7 2877.3 382.8 2904.5 382.0 2930.0 C381.2 2955.5 376.2 2999.2 375.0 3013.0 L334 3200 L316 3277 L314.8 3509" stroke="#77933C" stroke-width="7"/>
<path d="M667.0 2177.0 C645.0 2202.5 584.5 2269.5 535.0 2330.0 C485.5 2390.5 415.8 2480.0 370.0 2540.0 C324.2 2600.0 286.7 2650.8 260.0 2690.0 C233.3 2729.2 219.7 2754.7 210.0 2775.0 C200.3 2795.3 200.0 2803.5 202.0 2812.0 C204.0 2820.5 213.2 2825.5 222.0 2826.0 C230.8 2826.5 244.5 2819.3 255.0 2815.0 C265.5 2810.7 276.2 2802.0 285.0 2800.0 C293.8 2798.0 300.5 2794.7 308.0 2803.0 C315.5 2811.3 322.7 2828.8 330.0 2850.0 C337.3 2871.2 344.5 2902.8 352.0 2930.0 C359.5 2957.2 371.2 2999.2 375.0 3013.0 L380 3200 L384 3277 L386.5 3509" stroke="#0070C0" stroke-width="7"/>
<path d="M667.0 2177.0 C643.3 2202.5 577.8 2269.5 525.0 2330.0 C472.2 2390.5 399.2 2480.0 350.0 2540.0 C300.8 2600.0 260.8 2650.8 230.0 2690.0 C199.2 2729.2 177.2 2756.7 165.0 2775.0 C152.8 2793.3 155.8 2794.8 157.0 2800.0 C158.2 2805.2 164.8 2808.0 172.0 2806.0 C179.2 2804.0 190.7 2793.3 200.0 2788.0 C209.3 2782.7 219.3 2775.0 228.0 2774.0 C236.7 2773.0 241.7 2771.0 252.0 2782.0 C262.3 2793.0 276.2 2815.3 290.0 2840.0 C303.8 2864.7 320.8 2901.2 335.0 2930.0 C349.2 2958.8 368.3 2999.2 375.0 3013.0 L431 3200 L458.7 3273 L458.7 3509" stroke="#FFC000" stroke-width="7"/>
<path d="M667.0 2177.0 C641.7 2202.5 571.2 2269.5 515.0 2330.0 C458.8 2390.5 382.5 2480.0 330.0 2540.0 C277.5 2600.0 234.2 2650.0 200.0 2690.0 C165.8 2730.0 139.2 2762.2 125.0 2780.0 C110.8 2797.8 114.8 2794.3 115.0 2797.0 C115.2 2799.7 120.2 2800.5 126.0 2796.0 C131.8 2791.5 142.3 2776.5 150.0 2770.0 C157.7 2763.5 164.0 2757.8 172.0 2757.0 C180.0 2756.2 186.3 2755.8 198.0 2765.0 C209.7 2774.2 225.0 2790.3 242.0 2812.0 C259.0 2833.7 277.8 2861.5 300.0 2895.0 C322.2 2928.5 362.5 2993.3 375.0 3013.0 L484 3200 L531.2 3277 L531.2 3509" stroke="#92D050" stroke-width="7"/>
<g stroke="#00B050" stroke-width="4.5">
<path d="M242.7 3534 L162.6 3701"/>
<path d="M242.7 3534 L226 3701"/>
<path d="M242.7 3534 L290.2 3701"/>
<path d="M242.7 3534 L353.6 3701"/>
<path d="M242.7 3534 L417 3701"/>
<path d="M314.8 3534 L162.6 3701"/>
<path d="M314.8 3534 L226 3701"/>
<path d="M314.8 3534 L290.2 3701"/>
<path d="M314.8 3534 L353.6 3701"/>
<path d="M314.8 3534 L417 3701"/>
<path d="M386.5 3534 L290.2 3701"/>
<path d="M386.5 3534 L353.6 3701"/>
<path d="M386.5 3534 L417 3701"/>
<path d="M386.5 3534 L481.2 3701"/>
<path d="M386.5 3534 L545 3701"/>
<path d="M458.7 3534 L290.2 3701"/>
<path d="M458.7 3534 L417 3701"/>
<path d="M458.7 3534 L481.2 3701"/>
<path d="M458.7 3534 L545 3701"/>
<path d="M458.7 3534 L609.3 3701"/>
<path d="M531.2 3534 L417 3701"/>
<path d="M531.2 3534 L481.2 3701"/>
<path d="M531.2 3534 L545 3701"/>
<path d="M531.2 3534 L609.3 3701"/>
</g>
<g stroke="#7030A0" stroke-width="5.5">
<path d="M162.6 3701 L226.8 3868"/>
<path d="M162.6 3701 L290.2 3868"/>
<path d="M226 3701 L226.8 3868"/>
<path d="M226 3701 L290.2 3868"/>
<path d="M226 3701 L354.4 3868"/>
<path d="M290.2 3701 L226.8 3868"/>
<path d="M290.2 3701 L290.2 3868"/>
<path d="M290.2 3701 L354.4 3868"/>
<path d="M290.2 3701 L418.2 3868"/>
<path d="M353.6 3701 L290.2 3868"/>
<path d="M353.6 3701 L354.4 3868"/>
<path d="M353.6 3701 L418.2 3868"/>
<path d="M353.6 3701 L482.4 3868"/>
<path d="M417 3701 L354.4 3868"/>
<path d="M417 3701 L418.2 3868"/>
<path d="M417 3701 L482.4 3868"/>
<path d="M417 3701 L546.2 3868"/>
<path d="M481.2 3701 L418.2 3868"/>
<path d="M481.2 3701 L482.4 3868"/>
<path d="M481.2 3701 L546.2 3868"/>
<path d="M545 3701 L226.8 3868"/>
<path d="M545 3701 L290.2 3868"/>
<path d="M545 3701 L482.4 3868"/>
<path d="M545 3701 L546.2 3868"/>
<path d="M545 3701 L354.4 3868"/>
<path d="M609.3 3701 L290.2 3868"/>
<path d="M609.3 3701 L418.2 3868"/>
<path d="M609.3 3701 L546.2 3868"/>
<path d="M609.3 3701 L354.4 3868"/>
</g>
<g stroke="#9B009B" stroke-width="3.2">
<path d="M226.8 3868 L314 4047"/>
<path d="M226.8 3868 L386 4047"/>
<path d="M226.8 3868 L457.9 4047"/>
<path d="M290.2 3868 L314 4047"/>
<path d="M290.2 3868 L386 4047"/>
<path d="M290.2 3868 L457.9 4047"/>
<path d="M354.4 3868 L314 4047"/>
<path d="M354.4 3868 L386 4047"/>
<path d="M354.4 3868 L457.9 4047"/>
<path d="M418.2 3868 L314 4047"/>
<path d="M418.2 3868 L386 4047"/>
<path d="M418.2 3868 L457.9 4047"/>
<path d="M482.4 3868 L314 4047"/>
<path d="M482.4 3868 L386 4047"/>
<path d="M482.4 3868 L457.9 4047"/>
<path d="M546.2 3868 L314 4047"/>
<path d="M546.2 3868 L386 4047"/>
<path d="M546.2 3868 L457.9 4047"/>
</g>
</g>
<g id="nnNodes">
<circle cx="242.7" cy="3522" r="10.5" fill="#fff" stroke="#000" stroke-width="5.5"/>
<circle cx="314.8" cy="3522" r="10.5" fill="#fff" stroke="#000" stroke-width="5.5"/>
<circle cx="386.5" cy="3522" r="10.5" fill="#fff" stroke="#000" stroke-width="5.5"/>
<circle cx="458.7" cy="3522" r="10.5" fill="#fff" stroke="#000" stroke-width="5.5"/>
<circle cx="531.2" cy="3522" r="10.5" fill="#fff" stroke="#000" stroke-width="5.5"/>
<circle cx="162.6" cy="3701" r="11.5" fill="#00B050"/>
<circle cx="226" cy="3701" r="11.5" fill="#00B050"/>
<circle cx="290.2" cy="3701" r="11.5" fill="#00B050"/>
<circle cx="353.6" cy="3701" r="11.5" fill="#00B050"/>
<circle cx="417" cy="3701" r="11.5" fill="#00B050"/>
<circle cx="481.2" cy="3701" r="11.5" fill="#00B050"/>
<circle cx="545" cy="3701" r="11.5" fill="#00B050"/>
<circle cx="609.3" cy="3701" r="11.5" fill="#00B050"/>
<circle cx="226.8" cy="3868" r="14" fill="#7030A0"/>
<circle cx="290.2" cy="3868" r="14" fill="#7030A0"/>
<circle cx="354.4" cy="3868" r="14" fill="#7030A0"/>
<circle cx="418.2" cy="3868" r="14" fill="#7030A0"/>
<circle cx="482.4" cy="3868" r="14" fill="#7030A0"/>
<circle cx="546.2" cy="3868" r="14" fill="#7030A0"/>
<circle cx="314" cy="4047" r="11.5" fill="#9B009B"/>
<circle cx="386" cy="4047" r="11.5" fill="#9B009B"/>
<circle cx="457.9" cy="4047" r="11.5" fill="#9B009B"/>
</g>
<!-- 50_skin.svg -->
<defs><linearGradient id="gPurEl" x1="0" y1="0" x2="1" y2="1"><stop offset="0" stop-color="#cdbcf0"/><stop offset="1" stop-color="#b49ee2"/></linearGradient>
<linearGradient id="gHair" x1="0" y1="0" x2="1" y2="0"><stop offset="0" stop-color="#b4b5b3"/><stop offset="1" stop-color="#9a9b99"/></linearGradient></defs>
<g id="skin">
<path d="M1931 2090 L1990 2080 L2292 2126 L2480 2096 L2521 2112 L2521 2132 L2294 2190 L1931 2106 Z" fill="#f6cfc8"/>
<path d="M1931 2106 L2294 2190 L2294 2228 L2262 2240 L1940 2158 Z" fill="#f4c9c1"/>
<path d="M2294 2190 L2521 2132 L2521 2170 L2262 2240 L2294 2228 Z" fill="#e6b1a7"/>
<ellipse cx="1990" cy="2096" rx="18" ry="9" fill="#f4e514" transform="rotate(10 1990 2096)"/>
<ellipse cx="2035" cy="2104" rx="20" ry="10" fill="#f4e514" transform="rotate(10 2035 2104)"/>
<ellipse cx="2080" cy="2110" rx="22" ry="10" fill="#f4e514" transform="rotate(10 2080 2110)"/>
<ellipse cx="2120" cy="2122" rx="20" ry="9" fill="#f4e514" transform="rotate(12 2120 2122)"/>
<ellipse cx="2165" cy="2128" rx="18" ry="8" fill="#f4e514" transform="rotate(12 2165 2128)"/>
<ellipse cx="2205" cy="2140" rx="20" ry="9" fill="#f4e514" transform="rotate(12 2205 2140)"/>
<ellipse cx="2245" cy="2150" rx="18" ry="9" fill="#f4e514" transform="rotate(12 2245 2150)"/>
<ellipse cx="2060" cy="2128" rx="14" ry="7" fill="#f4e514" transform="rotate(10 2060 2128)"/>
<ellipse cx="2140" cy="2142" rx="16" ry="7" fill="#f4e514" transform="rotate(10 2140 2142)"/>
<ellipse cx="2235" cy="2165" rx="20" ry="9" fill="#f4e514" transform="rotate(0 2235 2165)"/>
<ellipse cx="2275" cy="2170" rx="14" ry="8" fill="#f4e514" transform="rotate(0 2275 2170)"/>
<ellipse cx="1975" cy="2092" rx="10" ry="5" fill="#f4e514" transform="rotate(0 1975 2092)"/>
<ellipse cx="1946" cy="2125" rx="6" ry="9" fill="#f4e514" transform="rotate(0 1946 2125)"/>
<ellipse cx="1975" cy="2140" rx="8" ry="10" fill="#f4e514" transform="rotate(10 1975 2140)"/>
<ellipse cx="1982" cy="2122" rx="4" ry="6" fill="#f4e514" transform="rotate(0 1982 2122)"/>
<ellipse cx="2000" cy="2140" rx="4" ry="6" fill="#f4e514" transform="rotate(0 2000 2140)"/>
<ellipse cx="2040" cy="2148" rx="9" ry="12" fill="#f4e514" transform="rotate(-10 2040 2148)"/>
<ellipse cx="2063" cy="2145" rx="5" ry="7" fill="#f4e514" transform="rotate(0 2063 2145)"/>
<ellipse cx="2085" cy="2150" rx="7" ry="9" fill="#f4e514" transform="rotate(0 2085 2150)"/>
<ellipse cx="2072" cy="2170" rx="9" ry="11" fill="#f4e514" transform="rotate(-10 2072 2170)"/>
<ellipse cx="2112" cy="2168" rx="10" ry="11" fill="#f4e514" transform="rotate(-10 2112 2168)"/>
<ellipse cx="2128" cy="2160" rx="5" ry="6" fill="#f4e514" transform="rotate(0 2128 2160)"/>
<ellipse cx="2150" cy="2178" rx="12" ry="13" fill="#f4e514" transform="rotate(-10 2150 2178)"/>
<ellipse cx="2165" cy="2190" rx="7" ry="8" fill="#f4e514" transform="rotate(0 2165 2190)"/>
<ellipse cx="2180" cy="2196" rx="9" ry="10" fill="#f4e514" transform="rotate(0 2180 2196)"/>
<ellipse cx="2200" cy="2188" rx="7" ry="8" fill="#f4e514" transform="rotate(0 2200 2188)"/>
<ellipse cx="2215" cy="2205" rx="8" ry="9" fill="#f4e514" transform="rotate(0 2215 2205)"/>
<ellipse cx="2240" cy="2200" rx="9" ry="10" fill="#f4e514" transform="rotate(0 2240 2200)"/>
<ellipse cx="2262" cy="2222" rx="11" ry="13" fill="#f4e514" transform="rotate(-10 2262 2222)"/>
<ellipse cx="2235" cy="2215" rx="6" ry="7" fill="#f4e514" transform="rotate(0 2235 2215)"/>
<ellipse cx="2320" cy="2170" rx="20" ry="9" fill="#f4e514" transform="rotate(-14 2320 2170)"/>
<ellipse cx="2360" cy="2150" rx="22" ry="9" fill="#f4e514" transform="rotate(-14 2360 2150)"/>
<ellipse cx="2400" cy="2142" rx="20" ry="9" fill="#f4e514" transform="rotate(-14 2400 2142)"/>
<ellipse cx="2440" cy="2130" rx="22" ry="10" fill="#f4e514" transform="rotate(-14 2440 2130)"/>
<ellipse cx="2480" cy="2122" rx="20" ry="10" fill="#f4e514" transform="rotate(-14 2480 2122)"/>
<ellipse cx="2510" cy="2112" rx="12" ry="8" fill="#f4e514" transform="rotate(-14 2510 2112)"/>
<ellipse cx="2345" cy="2172" rx="16" ry="8" fill="#f4e514" transform="rotate(-14 2345 2172)"/>
<ellipse cx="2385" cy="2160" rx="16" ry="7" fill="#f4e514" transform="rotate(-14 2385 2160)"/>
<ellipse cx="2470" cy="2138" rx="16" ry="8" fill="#f4e514" transform="rotate(-14 2470 2138)"/>
<ellipse cx="2312" cy="2215" rx="9" ry="22" fill="#f4e514" transform="rotate(18 2312 2215)"/>
<ellipse cx="2334" cy="2205" rx="9" ry="22" fill="#f4e514" transform="rotate(18 2334 2205)"/>
<ellipse cx="2368" cy="2196" rx="8" ry="20" fill="#f4e514" transform="rotate(18 2368 2196)"/>
<ellipse cx="2392" cy="2188" rx="8" ry="20" fill="#f4e514" transform="rotate(18 2392 2188)"/>
<ellipse cx="2416" cy="2180" rx="8" ry="18" fill="#f4e514" transform="rotate(18 2416 2180)"/>
<ellipse cx="2440" cy="2172" rx="9" ry="20" fill="#f4e514" transform="rotate(18 2440 2172)"/>
<ellipse cx="2464" cy="2164" rx="8" ry="18" fill="#f4e514" transform="rotate(18 2464 2164)"/>
<ellipse cx="2490" cy="2156" rx="9" ry="18" fill="#f4e514" transform="rotate(18 2490 2156)"/>
<ellipse cx="2510" cy="2150" rx="7" ry="16" fill="#f4e514" transform="rotate(18 2510 2150)"/>
<ellipse cx="2352" cy="2212" rx="6" ry="12" fill="#f4e514" transform="rotate(18 2352 2212)"/>
<path d="M1990.0 1856.0 C2001.7 1857.8 2035.0 1864.7 2060.0 1867.0 C2085.0 1869.3 2113.3 1867.5 2140.0 1870.0 C2166.7 1872.5 2195.0 1878.8 2220.0 1882.0 C2245.0 1885.2 2278.3 1887.8 2290.0 1889.0 L2290.0 1889.0 C2298.3 1887.5 2318.3 1880.8 2340.0 1880.0 C2361.7 1879.2 2396.7 1883.3 2420.0 1884.0 C2443.3 1884.7 2463.2 1884.7 2480.0 1884.0 C2496.8 1883.3 2514.2 1880.7 2521.0 1880.0 L2521.0 1894.0 L2521.0 1894.0 C2507.3 1895.3 2466.0 1898.0 2439.0 1902.0 C2412.0 1906.0 2383.8 1913.0 2359.0 1918.0 C2334.2 1923.0 2301.5 1929.7 2290.0 1932.0 L2290.0 1932.0 C2278.3 1931.7 2248.3 1932.3 2220.0 1930.0 C2191.7 1927.7 2153.3 1922.0 2120.0 1918.0 C2086.7 1914.0 2052.7 1909.0 2020.0 1906.0 C1987.3 1903.0 1940.0 1901.0 1924.0 1900.0 Z" fill="#f6cfc8"/>
<path d="M1924.0 1900.0 C1940.0 1901.0 1987.3 1903.0 2020.0 1906.0 C2052.7 1909.0 2086.7 1914.0 2120.0 1918.0 C2153.3 1922.0 2191.7 1927.7 2220.0 1930.0 C2248.3 1932.3 2278.3 1931.7 2290.0 1932.0 L2292.0 2126.0 L2292.0 2126.0 C2281.7 2125.3 2253.7 2124.3 2230.0 2122.0 C2206.3 2119.7 2175.0 2116.3 2150.0 2112.0 C2125.0 2107.7 2101.7 2100.3 2080.0 2096.0 C2058.3 2091.7 2038.3 2090.0 2020.0 2086.0 C2001.7 2082.0 1985.5 2078.0 1970.0 2072.0 C1954.5 2066.0 1934.2 2053.7 1927.0 2050.0 Z" fill="#f4c9c1"/>
<path d="M2290.0 1932.0 C2301.5 1929.7 2334.2 1923.0 2359.0 1918.0 C2383.8 1913.0 2412.0 1906.0 2439.0 1902.0 C2466.0 1898.0 2507.3 1895.3 2521.0 1894.0 L2521.0 2090.0 L2521.0 2090.0 C2509.2 2093.0 2473.5 2103.3 2450.0 2108.0 C2426.5 2112.7 2406.3 2115.0 2380.0 2118.0 C2353.7 2121.0 2306.7 2124.7 2292.0 2126.0 Z" fill="#e6b1a7"/>
<g fill="none" stroke="#f26a1b" stroke-width="2.6" stroke-linecap="round">
<path d="M1976 1962 Q2000 2060 2046 2178" stroke-width="3.4"/>
<path d="M1976 1962 L1972 1935 L1960 1915 M1972 1935 L1985 1912 M1960 1915 L1952 1902 M1960 1915 L1966 1902 M1985 1912 L1980 1902 M1985 1912 L1994 1902 M1976 1962 L1948 1938 L1932 1935 M1948 1938 L1938 1918 L1928 1908 M1938 1918 L1945 1904 M1976 1962 L1998 1940 L2005 1915 L2000 1904 M2005 1915 L2012 1904 M1998 1940 L2010 1930 L2014 1912 M1932 1935 L1926 1925 M1948 1938 L1952 1920"/>
</g>
<path d="M2054 1920 C2068 1938 2068 1964 2054 1966 C2040 1964 2042 1938 2054 1920 Z" fill="#7cc9ea" transform="rotate(-12 2054 1944)"/>
<path d="M2054 1964 q-6 -12 0 -22 q6 -8 -2 -16" fill="none" stroke="#e0606c" stroke-width="1.6" transform="rotate(-12 2054 1944)"/>
<path d="M2072 1910 C2086 1928 2086 1954 2072 1956 C2058 1954 2060 1928 2072 1910 Z" fill="#7cc9ea" transform="rotate(-8 2072 1934)"/>
<path d="M2072 1954 q-6 -12 0 -22 q6 -8 -2 -16" fill="none" stroke="#e0606c" stroke-width="1.6" transform="rotate(-8 2072 1934)"/>
<g fill="none" stroke="#e0606c" stroke-width="3.2" stroke-linecap="round">
<path d="M2056 1966 Q2075 2000 2110 2012 Q2122 2020 2118 2004"/>
<path d="M2074 1956 Q2090 1985 2112 1996 Q2124 2004 2118 2020 Q2130 2060 2170 2110 Q2200 2150 2212 2222"/>
<path d="M2072 2050 Q2120 2090 2170 2150 Q2200 2190 2208 2222"/>
<path d="M2148 1968 Q2170 2020 2200 2060 Q2240 2110 2290 2122" stroke-width="2.4"/>
<path d="M2215 2205 Q2240 2215 2262 2238"/>
</g>
<ellipse cx="2072" cy="2050" rx="26" ry="30" fill="#c9b8ea" transform="rotate(-20 2072 2050)"/>
<g fill="none" stroke="#ecea4a" stroke-width="2.2" transform="rotate(-20 2072 2050)"><ellipse cx="2070" cy="2048" rx="18" ry="21"/><ellipse cx="2070" cy="2048" rx="11" ry="13"/><ellipse cx="2070" cy="2048" rx="5" ry="6"/></g>
<g transform="rotate(-22 2148 1956)"><path d="M2112 1956 Q2148 1936 2184 1956 Q2148 1976 2112 1956 Z" fill="#f7c3a2"/><path d="M2122 1956 Q2148 1944 2174 1956 Q2148 1968 2122 1956 Z" fill="#e06a6a"/></g>
<g fill="none" stroke="#f0284a" stroke-width="2" stroke-linecap="round"><path d="M2226 1958 Q2240 2100 2258 2234"/><path d="M2226 1958 L2222 1944 L2210 1932 M2222 1944 L2216 1930 M2226 1958 L2224 1930 M2226 1958 L2230 1930 M2222 1944 L2221 1930"/></g>
<path d="M2251 1786 L2256 1786 L2261 2048 L2257 2048 Z" fill="#a9aaa8"/>
<circle cx="2260" cy="2062" r="13" fill="none" stroke="#a9aaa8" stroke-width="3"/><path d="M2249 2060 q10 -8 22 2 M2250 2068 q10 6 20 -2" fill="none" stroke="#a9aaa8" stroke-width="3"/>
<g fill="none" stroke="#e2606c" stroke-width="5" stroke-linecap="round">
<path d="M2330 2226 Q2332 2170 2345 2140 Q2336 2100 2326 2062"/>
<path d="M2345 2140 Q2352 2100 2356 2072"/>
<path d="M2338 2226 Q2345 2170 2370 2120 Q2395 2060 2432 2000"/>
<path d="M2370 2120 Q2400 2050 2468 1992"/>
<path d="M2462 2196 Q2468 2160 2455 2125" stroke-width="4"/>
</g>
<path d="M2385 1900 Q2360 1960 2330 2010 Q2318 2030 2326 2042 Q2340 2070 2350 2078 Q2380 2060 2408 2035 Q2416 2020 2410 2000 Q2408 1950 2418 1900 Z" fill="url(#gHair)"/>
<path d="M2483 1698 Q2420 1760 2385 1900 L2418 1900 Q2430 1780 2483 1698 Z" fill="url(#gHair)"/>
<g fill="none" stroke="#f5c518" stroke-width="8" stroke-linecap="round"><path d="M2356 1966 Q2385 1962 2406 1936"/><path d="M2330 2018 Q2375 2018 2412 1994"/><path d="M2320 2052 Q2372 2058 2414 2038"/></g>
<path d="M2437 1940 C2455 1960 2458 1996 2438 1998 C2418 1998 2420 1962 2437 1940 Z" fill="#6ec4e6"/>
<path d="M2478 1914 C2496 1944 2496 1992 2472 1994 C2450 1992 2458 1940 2478 1914 Z" fill="#6ec4e6"/>
<ellipse cx="2443" cy="2082" rx="53" ry="44" fill="url(#gPurEl)" transform="rotate(-40 2443 2082)"/>
<path d="M1917.0 1756.0 C1927.5 1754.3 1956.2 1746.8 1980.0 1746.0 C2003.8 1745.2 2038.7 1749.0 2060.0 1751.0 C2081.3 1753.0 2093.0 1760.5 2108.0 1758.0 C2123.0 1755.5 2131.3 1736.7 2150.0 1736.0 C2168.7 1735.3 2200.3 1749.5 2220.0 1754.0 C2239.7 1758.5 2248.0 1761.5 2268.0 1763.0 C2288.0 1764.5 2311.3 1762.5 2340.0 1763.0 C2368.7 1763.5 2409.8 1767.0 2440.0 1766.0 C2470.2 1765.0 2507.5 1758.5 2521.0 1757.0 L2521.0 1757.0 C2500.8 1758.8 2430.2 1763.8 2400.0 1768.0 C2369.8 1772.2 2359.3 1777.3 2340.0 1782.0 C2320.7 1786.7 2293.3 1793.7 2284.0 1796.0 L2284.0 1796.0 C2273.3 1793.0 2244.0 1782.7 2220.0 1778.0 C2196.0 1773.3 2170.0 1772.3 2140.0 1768.0 C2110.0 1763.7 2077.2 1753.7 2040.0 1752.0 C2002.8 1750.3 1937.5 1757.0 1917.0 1758.0 Z" fill="#f0c0b7"/>
<path d="M2202 1624 Q2140 1690 2108 1760 L2130 1762 Q2150 1700 2202 1624 Z" fill="url(#gHair)"/>
<path d="M2306 1674 Q2280 1720 2264 1764 L2276 1766 Q2286 1724 2306 1674 Z" fill="url(#gHair)"/>
<path d="M1917.0 1758.0 C1937.5 1757.0 2002.8 1750.3 2040.0 1752.0 C2077.2 1753.7 2110.0 1763.7 2140.0 1768.0 C2170.0 1772.3 2196.0 1773.3 2220.0 1778.0 C2244.0 1782.7 2273.3 1793.0 2284.0 1796.0 L2290.0 1889.0 C2278.3 1887.8 2245.0 1885.2 2220.0 1882.0 C2195.0 1878.8 2166.7 1872.5 2140.0 1870.0 C2113.3 1867.5 2083.3 1870.0 2060.0 1867.0 C2036.7 1864.0 2016.7 1854.2 2000.0 1852.0 C1983.3 1849.8 1973.2 1852.3 1960.0 1854.0 C1946.8 1855.7 1927.5 1860.7 1921.0 1862.0 Z" fill="#f4c9c1"/>
<path d="M2284.0 1796.0 C2293.3 1793.7 2320.7 1786.7 2340.0 1782.0 C2359.3 1777.3 2369.8 1772.2 2400.0 1768.0 C2430.2 1763.8 2500.8 1758.8 2521.0 1757.0 L2521.0 1854.0 C2514.2 1856.0 2496.8 1862.3 2480.0 1866.0 C2463.2 1869.7 2443.3 1874.3 2420.0 1876.0 C2396.7 1877.7 2361.7 1873.8 2340.0 1876.0 C2318.3 1878.2 2298.3 1886.8 2290.0 1889.0 Z" fill="#e6b1a7"/>
<path d="M2062 1868 L2090 1870 L2086 1877 L2060 1876 Z" fill="#a9aaa8"/><path d="M2216 1881 L2238 1884 L2236 1890 L2213 1888 Z" fill="#a9aaa8"/>
<path d="M2251.5 1786 L2256 1786 L2257.5 1886 L2253.5 1886 Z" fill="#a9aaa8"/>
<path d="M2483 1698 Q2420 1760 2385 1900 L2418 1900 Q2430 1780 2483 1698 Z" fill="url(#gHair)"/>
</g>
<!-- 60_center.svg -->
<defs>
<linearGradient id="gCuff" x1="0" y1="0" x2="0.3" y2="1"><stop offset="0" stop-color="#ffffff"/><stop offset=".6" stop-color="#f2f2f2"/><stop offset="1" stop-color="#c9c9c9"/></linearGradient>
<linearGradient id="gShell" x1="0" y1="0" x2="0.2" y2="1"><stop offset="0" stop-color="#ffffff"/><stop offset=".55" stop-color="#f0f0f0"/><stop offset="1" stop-color="#bdbdbd"/></linearGradient>
<linearGradient id="gFing" x1="0" y1="0" x2="1" y2="0.3"><stop offset="0" stop-color="#d4d4d4"/><stop offset=".4" stop-color="#fbfbfb"/><stop offset="1" stop-color="#c4c4c4"/></linearGradient>
<linearGradient id="gHand" x1="0" y1="0" x2="0.35" y2="1"><stop offset="0" stop-color="#fad3b8"/><stop offset=".6" stop-color="#f8cbad"/><stop offset="1" stop-color="#edb896"/></linearGradient>
<radialGradient id="gBerry2" cx=".45" cy=".4" r=".7"><stop offset="0" stop-color="#f6dde4"/><stop offset="1" stop-color="#e6bccb"/></radialGradient>
<pattern id="pDots2" width="12" height="12" patternUnits="userSpaceOnUse" patternTransform="rotate(20)"><circle cx="4" cy="4" r="2" fill="#cfa0b4"/></pattern>
<filter id="c3" x="-20%" y="-20%" width="140%" height="140%"><feGaussianBlur stdDeviation="3"/></filter>
<filter id="c6" x="-20%" y="-20%" width="140%" height="140%"><feGaussianBlur stdDeviation="6"/></filter>
</defs>
<g id="center">
<path d="M941 2420 Q938 2400 956 2392 L970 2388 L960 2545 L948 2538 Q938 2500 941 2420 Z" fill="#b5b5b5"/>
<path d="M944 2520 L960 2530 L958 2548 L946 2540 Z" fill="#9a9a9a"/>
<path d="M962.0 2392.0 C969.4 2385.8 1003.1 2377.0 1018.0 2377.0 C1032.9 2377.0 1074.0 2387.7 1090.0 2392.0 C1106.0 2396.3 1146.8 2408.4 1155.0 2414.0 C1163.2 2419.6 1161.8 2427.6 1160.0 2440.0 C1158.2 2452.4 1147.0 2503.1 1140.0 2520.0 C1133.0 2536.9 1106.3 2576.6 1100.0 2585.0 C1093.7 2593.4 1094.2 2593.5 1086.0 2592.0 C1077.8 2590.5 1043.8 2577.0 1030.0 2572.0 C1016.2 2567.0 976.8 2557.4 968.0 2549.0 C959.2 2540.6 956.5 2513.9 955.0 2500.0 C953.5 2486.1 954.2 2442.6 955.0 2430.0 C955.8 2417.4 954.6 2398.2 962.0 2392.0 Z" fill="url(#gCuff)"/>
<path d="M1155 2414 Q1120 2400 1098 2430 Q1070 2480 1078 2560 Q1082 2590 1092 2588 Q1130 2540 1160 2440 Z" fill="#3a3a3a"/>
<path d="M1080.0 2480.0 L1102.0 2427.0 L1130.0 2412.0 L1160.0 2410.0 L1186.0 2430.0 L1184.0 2462.0 L1220.0 2465.0 L1200.0 2485.0 L1174.0 2496.0 L1150.0 2549.0 L1138.0 2587.0 L1100.0 2582.0 L1084.0 2570.0 Z" fill="#1c1c1c"/>
<ellipse cx="1142" cy="2424" rx="32" ry="12" fill="#4a4a4a" transform="rotate(8 1142 2424)"/>
<path d="M1102 2440 L1150 2452 L1140 2560 L1094 2548 Z" fill="#2d2d2d"/>
<path d="M1150 2548 L1190 2560 L1200 2600 L1180 2630 L1130 2640 L1122 2610 Z" fill="#b9bbbb"/>
<path d="M1138 2590 Q1150 2570 1172 2580 L1168 2618 L1136 2625 Z" fill="#dcdcdc"/>
<path d="M1149.0 2518.0 C1150.8 2512.3 1164.0 2493.9 1174.0 2488.0 C1184.0 2482.1 1221.2 2469.7 1235.0 2467.0 C1248.8 2464.3 1275.1 2463.0 1292.0 2465.0 C1308.9 2467.0 1363.5 2478.6 1380.0 2484.0 C1396.5 2489.4 1427.6 2506.6 1433.0 2511.0 C1438.4 2515.4 1431.2 2519.3 1426.0 2522.0 C1420.8 2524.7 1401.4 2530.8 1388.0 2534.0 C1374.6 2537.2 1322.5 2545.0 1311.0 2549.0 C1299.5 2553.0 1292.0 2559.9 1289.0 2568.0 C1286.0 2576.1 1288.6 2609.9 1285.0 2618.0 C1281.4 2626.1 1265.1 2635.7 1258.0 2637.0 C1250.9 2638.3 1231.1 2634.8 1224.0 2629.0 C1216.9 2623.2 1201.1 2595.5 1197.0 2587.0 C1192.9 2578.5 1193.4 2561.8 1189.0 2556.0 C1184.6 2550.2 1163.7 2541.4 1159.0 2537.0 C1154.3 2532.6 1147.2 2523.7 1149.0 2518.0 Z" fill="url(#gShell)"/>
<ellipse cx="1262" cy="2478" rx="16" ry="7" fill="#e4e4e4"/><circle cx="1305" cy="2510" r="2.5" fill="#222"/><circle cx="1352" cy="2496" r="2.5" fill="#222"/><ellipse cx="1215" cy="2524" rx="5" ry="3" fill="#999"/>
<path d="M1289.0 2568.0 C1291.2 2561.1 1301.1 2552.4 1311.0 2549.0 C1320.9 2545.6 1375.4 2536.7 1388.0 2534.0 C1400.6 2531.3 1429.4 2522.0 1437.0 2522.0 C1444.6 2522.0 1460.5 2530.6 1464.0 2534.0 C1467.5 2537.4 1473.9 2552.2 1472.0 2556.0 C1470.1 2559.8 1451.1 2568.9 1445.0 2572.0 C1438.9 2575.1 1415.2 2582.8 1411.0 2587.0 C1406.8 2591.2 1410.7 2613.2 1403.0 2614.0 C1395.3 2614.8 1341.6 2593.9 1334.0 2595.0 C1326.4 2596.1 1331.5 2622.7 1327.0 2625.0 C1322.5 2627.3 1292.8 2623.7 1289.0 2618.0 C1285.2 2612.3 1286.8 2574.9 1289.0 2568.0 Z" fill="#1a1a1a"/>
<path d="M1311.0 2724.0 C1323.7 2720.3 1349.5 2710.3 1361.0 2713.0 C1372.5 2715.7 1376.2 2722.8 1380.0 2740.0 C1383.8 2757.2 1382.7 2795.7 1384.0 2816.0 C1385.3 2836.3 1393.7 2855.7 1388.0 2862.0 C1382.3 2868.3 1360.2 2859.8 1350.0 2854.0 C1339.8 2848.2 1333.5 2836.5 1327.0 2827.0 C1320.5 2817.5 1318.0 2805.2 1311.0 2797.0 C1304.0 2788.8 1291.3 2784.5 1285.0 2778.0 C1278.7 2771.5 1273.0 2765.2 1273.0 2758.0 C1273.0 2750.8 1278.7 2740.7 1285.0 2735.0 C1291.3 2729.3 1298.3 2727.7 1311.0 2724.0 Z" fill="url(#gBerry2)"/><path d="M1311.0 2724.0 C1323.7 2720.3 1349.5 2710.3 1361.0 2713.0 C1372.5 2715.7 1376.2 2722.8 1380.0 2740.0 C1383.8 2757.2 1382.7 2795.7 1384.0 2816.0 C1385.3 2836.3 1393.7 2855.7 1388.0 2862.0 C1382.3 2868.3 1360.2 2859.8 1350.0 2854.0 C1339.8 2848.2 1333.5 2836.5 1327.0 2827.0 C1320.5 2817.5 1318.0 2805.2 1311.0 2797.0 C1304.0 2788.8 1291.3 2784.5 1285.0 2778.0 C1278.7 2771.5 1273.0 2765.2 1273.0 2758.0 C1273.0 2750.8 1278.7 2740.7 1285.0 2735.0 C1291.3 2729.3 1298.3 2727.7 1311.0 2724.0 Z" fill="url(#pDots2)"/>
<g stroke="#78b032" stroke-linecap="round" fill="none">
<path d="M1300 2715 Q1326.1 2719.8 1348.6 2711.2" stroke-width="12.0"/>
<path d="M1300 2715 Q1313.0 2728.3 1333.0 2731.4" stroke-width="13.2"/>
<path d="M1300 2715 Q1306.3 2739.3 1324.8 2752.4" stroke-width="11.4"/>
<path d="M1300 2715 Q1287.8 2734.6 1293.6 2754.9" stroke-width="9.8"/>
<path d="M1300 2715 Q1275.6 2727.7 1269.8 2747.1" stroke-width="12.7"/>
<path d="M1300 2715 Q1278.5 2717.4 1264.7 2733.5" stroke-width="12.0"/>
<path d="M1300 2715 Q1279.5 2708.6 1261.5 2718.5" stroke-width="11.4"/>
<path d="M1300 2715 Q1282.5 2696.3 1254.5 2691.2" stroke-width="13.6"/>
<path d="M1300 2715 Q1293.6 2695.1 1271.0 2683.7" stroke-width="13.7"/>
<path d="M1300 2715 Q1310.6 2699.5 1306.0 2683.2" stroke-width="10.1"/>
<path d="M1300 2715 Q1322.4 2704.2 1330.4 2684.6" stroke-width="10.5"/>
<path d="M1300 2715 Q1324.8 2711.7 1339.7 2697.3" stroke-width="11.9"/>
</g><ellipse cx="1300" cy="2715" rx="20" ry="16" fill="#78b032"/>
<path d="M1502.0 2579.3 C1503.0 2577.0 1522.4 2574.2 1524.9 2575.5 C1527.4 2576.8 1532.7 2593.1 1531.8 2595.3 C1530.8 2597.6 1516.0 2604.3 1513.5 2603.0 C1511.0 2601.6 1501.1 2581.6 1502.0 2579.3 Z" fill="#7a7a7a"/>
<path d="M1456.3 2564.1 C1455.0 2556.7 1488.4 2544.7 1494.4 2548.8 C1500.4 2552.9 1527.5 2606.3 1528.7 2613.6 C1530.0 2621.0 1515.7 2641.4 1509.7 2637.3 C1503.6 2633.2 1457.5 2571.4 1456.3 2564.1 Z" fill="url(#gFing)" stroke="#b0b0b0" stroke-width="1"/>
<path d="M1494.4 2625.1 C1496.6 2621.0 1525.2 2611.1 1528.7 2613.6 C1532.2 2616.2 1538.6 2651.5 1536.4 2655.6 C1534.1 2659.7 1505.5 2665.8 1502.0 2663.2 C1498.5 2660.7 1492.2 2629.2 1494.4 2625.1 Z" fill="#4a4a4a"/>
<circle cx="1519.2" cy="2638.4" r="12.2" fill="#a6a6a6"/><circle cx="1519.2" cy="2638.4" r="4.6" fill="#1a1a1a"/>
<path d="M1502.0 2657.5 C1504.5 2643.1 1530.6 2624.9 1533.3 2636.5 C1536.0 2648.1 1536.9 2782.3 1534.5 2796.7 C1532.0 2811.1 1506.6 2820.5 1503.9 2808.9 C1501.2 2797.3 1499.6 2671.9 1502.0 2657.5 Z" fill="url(#gFing)" stroke="#b0b0b0" stroke-width="1"/>
<path d="M1414.3 2583.1 C1417.2 2575.4 1467.4 2559.6 1475.3 2564.1 C1483.3 2568.5 1512.5 2628.8 1509.7 2636.5 C1506.8 2644.2 1449.0 2660.8 1441.0 2656.4 C1433.1 2651.9 1411.5 2590.8 1414.3 2583.1 Z" fill="url(#gFing)" stroke="#b0b0b0" stroke-width="1"/>
<path d="M1437.2 2655.6 C1442.6 2650.1 1503.0 2637.2 1509.7 2640.3 C1516.3 2643.5 1522.7 2688.3 1517.3 2693.7 C1511.9 2699.2 1451.5 2709.1 1444.8 2705.9 C1438.2 2702.8 1431.8 2661.1 1437.2 2655.6 Z" fill="#1c1c1c"/>
<circle cx="1463.9" cy="2674.7" r="16.0" fill="#a6a6a6"/><circle cx="1463.9" cy="2674.7" r="6.1" fill="#1a1a1a"/>
<path d="M1437.2 2701.4 C1441.3 2694.9 1488.9 2682.3 1494.4 2686.1 C1499.9 2689.9 1506.9 2740.7 1502.8 2747.1 C1498.7 2753.5 1450.3 2767.0 1444.8 2763.1 C1439.4 2759.3 1433.1 2707.8 1437.2 2701.4 Z" fill="url(#gFing)" stroke="#b0b0b0" stroke-width="1"/>
<path d="M1479.2 2739.5 C1480.7 2735.9 1500.5 2732.5 1502.8 2735.7 C1505.1 2738.9 1508.2 2774.1 1506.6 2777.6 C1505.0 2781.2 1486.0 2781.6 1483.7 2778.4 C1481.4 2775.2 1477.6 2743.1 1479.2 2739.5 Z" fill="#1c1c1c"/>
<path d="M1441.0 2766.2 C1445.4 2757.5 1494.0 2744.3 1498.2 2750.9 C1502.4 2757.6 1495.7 2837.6 1491.4 2846.3 C1487.0 2854.9 1449.8 2861.3 1445.6 2854.7 C1441.4 2848.0 1436.6 2774.8 1441.0 2766.2 Z" fill="url(#gFing)" stroke="#b0b0b0" stroke-width="1"/>
<path d="M1340.0 2587.0 C1343.5 2579.9 1395.1 2577.4 1402.9 2583.1 C1410.7 2588.9 1436.9 2648.5 1433.4 2655.6 C1429.9 2662.7 1368.7 2673.5 1360.9 2667.8 C1353.1 2662.1 1336.5 2594.0 1340.0 2587.0 Z" fill="url(#gFing)" stroke="#b0b0b0" stroke-width="1"/>
<path d="M1357.1 2655.6 C1362.5 2651.1 1426.4 2648.0 1433.4 2651.8 C1440.4 2655.6 1446.4 2696.8 1441.0 2701.4 C1435.6 2705.9 1375.6 2709.7 1368.6 2705.9 C1361.6 2702.1 1351.7 2660.1 1357.1 2655.6 Z" fill="#1c1c1c"/>
<circle cx="1381.9" cy="2676.6" r="16.0" fill="#a6a6a6"/><circle cx="1381.9" cy="2676.6" r="6.1" fill="#1a1a1a"/>
<path d="M1362.8 2701.4 C1366.7 2694.6 1419.2 2678.8 1425.8 2682.3 C1432.3 2685.8 1445.6 2736.6 1441.8 2743.3 C1438.0 2750.0 1386.6 2766.6 1380.0 2763.1 C1373.4 2759.6 1359.0 2708.1 1362.8 2701.4 Z" fill="url(#gFing)" stroke="#b0b0b0" stroke-width="1"/>
<path d="M1412.4 2739.5 C1414.0 2735.9 1435.5 2732.5 1438.0 2735.7 C1440.4 2738.9 1443.4 2774.1 1441.8 2777.6 C1440.2 2781.2 1421.3 2781.6 1418.9 2778.4 C1416.5 2775.2 1410.8 2743.1 1412.4 2739.5 Z" fill="#1c1c1c"/>
<path d="M1376.2 2770.0 C1380.0 2760.7 1427.8 2751.6 1433.4 2758.6 C1439.0 2765.6 1447.5 2844.6 1443.7 2853.9 C1439.9 2863.2 1393.3 2876.9 1387.6 2869.9 C1382.0 2862.9 1372.4 2779.3 1376.2 2770.0 Z" fill="url(#gFing)" stroke="#b0b0b0" stroke-width="1"/>
<path d="M1128.0 2637.0 C1131.1 2629.4 1171.1 2622.4 1178.0 2625.0 C1184.9 2627.6 1193.6 2654.6 1197.0 2663.0 C1200.4 2671.4 1207.0 2701.3 1212.0 2709.0 C1217.0 2716.7 1240.9 2733.1 1247.0 2740.0 C1253.1 2746.9 1265.8 2770.4 1273.0 2778.0 C1280.2 2785.6 1314.8 2806.9 1319.0 2816.0 C1323.2 2825.1 1317.3 2863.3 1315.0 2869.0 C1312.7 2874.7 1300.9 2876.0 1296.0 2873.0 C1291.1 2870.0 1272.1 2845.5 1266.0 2839.0 C1259.9 2832.5 1244.2 2817.2 1235.0 2808.0 C1225.8 2798.8 1182.8 2757.7 1174.0 2747.0 C1165.2 2736.3 1151.6 2712.0 1147.0 2701.0 C1142.4 2690.0 1124.9 2644.6 1128.0 2637.0 Z" fill="url(#gFing)"/>
<path d="M1266 2827 L1292 2812 L1319 2830 L1315 2869 L1296 2873 Z" fill="#1c1c1c"/>
<g fill="none" stroke="#7a7a7a" stroke-width="2.5"><path d="M1150 2700 L1208 2700"/><path d="M1190 2760 L1240 2735"/><path d="M1250 2815 L1286 2790"/></g>
<path d="M1185 2640 L1200 2690 L1214 2712 L1200 2720 L1180 2680 Z" fill="#3a3a3a"/>
<g id="hhand">
<g fill="none" stroke-linecap="round">
<path d="M1738 2692 L1722 2666" stroke="#f3c3a6" stroke-width="20"/>
<path d="M1704 2718 Q1655 2706 1612 2708" stroke="#f4c5a8" stroke-width="23"/>
<path d="M1692 2756 Q1605 2760 1534 2768" stroke="#f5c7aa" stroke-width="28"/>
</g>
<path d="M2051.0 2316.0 C2072.7 2321.7 2179.5 2378.1 2190.0 2401.0 C2200.5 2423.9 2147.1 2465.6 2130.0 2488.0 C2112.9 2510.4 2076.9 2551.1 2062.0 2569.0 C2047.1 2586.9 2035.9 2605.3 2018.0 2622.0 C2000.1 2638.7 1952.0 2676.0 1928.0 2694.0 C1904.0 2712.0 1855.9 2745.7 1838.0 2757.0 C1820.1 2768.3 1806.8 2774.3 1794.0 2779.0 C1781.2 2783.7 1754.5 2792.5 1742.0 2792.0 C1729.5 2791.5 1706.9 2781.9 1700.0 2775.0 C1693.1 2768.1 1687.6 2750.0 1690.0 2740.0 C1692.4 2730.0 1710.1 2713.3 1718.0 2700.0 C1725.9 2686.7 1742.5 2652.7 1749.0 2640.0 C1755.5 2627.3 1769.4 2611.5 1767.0 2605.0 C1764.6 2598.5 1745.4 2590.5 1731.0 2591.0 C1716.6 2591.5 1676.9 2605.1 1659.0 2609.0 C1641.1 2612.9 1608.1 2621.2 1597.0 2620.0 C1585.9 2618.8 1577.2 2605.1 1576.0 2600.0 C1574.8 2594.9 1576.9 2589.7 1588.0 2582.0 C1599.1 2574.3 1639.9 2551.6 1659.0 2542.0 C1678.1 2532.4 1713.0 2518.4 1731.0 2510.0 C1749.0 2501.6 1776.7 2485.5 1794.0 2479.0 C1811.3 2472.5 1843.1 2464.3 1861.0 2461.0 C1878.9 2457.7 1914.3 2456.4 1928.0 2454.0 C1941.7 2451.6 1955.1 2448.6 1964.0 2443.0 C1972.9 2437.4 1986.6 2423.3 1995.0 2412.0 C2003.4 2400.7 2019.5 2370.8 2027.0 2358.0 C2034.5 2345.2 2029.3 2310.3 2051.0 2316.0 Z" fill="url(#gHand)"/>
<path d="M1742 2752 Q1640 2790 1524 2858" fill="none" stroke="#f6c8aa" stroke-width="44" stroke-linecap="round"/>
<path d="M1560 2808 Q1640 2770 1720 2740" fill="none" stroke="#e3ad8e" stroke-width="6" opacity=".45" filter="url(#c3)"/>
<path d="M1500 2868 Q1520 2850 1548 2848" fill="none" stroke="#e2ae90" stroke-width="5" opacity=".8"/>
<path d="M1740 2786 Q1800 2764 1840 2724" fill="none" stroke="#d9a080" stroke-width="12" opacity=".4" filter="url(#c6)"/>
<path d="M1770 2610 Q1740 2660 1730 2700" fill="none" stroke="#e2aa8a" stroke-width="8" opacity=".4" filter="url(#c6)"/>
</g>
</g>
<!-- 65_connectors.svg -->
<g id="connectors" fill="none" stroke="#0070C0" stroke-width="4.3">
<path d="M1186 2527 L481 2176.5" stroke-dasharray="32.5 18.4"/>
<path d="M1250.3 2495.4 L1137 2126" stroke-dasharray="32.5 18.4"/>
<path d="M1747.9 2533 L1860 2158.6" stroke-dasharray="32.5 18.4"/>
<path d="M1820.4 2557.6 L2573.8 2171.8" stroke-dasharray="32.5 18.4"/>
<path d="M732.7 3106.5 L1170.3 2834.8" stroke-dasharray="32.5 18.4"/>
<path d="M2262.3 3106 L1802.5 2808.4" stroke-dasharray="32.5 18.4"/>
<rect x="1186.3" y="2507.6" width="72.4" height="53.4" stroke-dasharray="7 4.5" stroke-width="4"/>
<rect x="1739.8" y="2541" width="72.6" height="53.7" stroke-dasharray="7 4.5" stroke-width="4"/>
<path d="M709.3 3106.4 H1499.5" stroke-dasharray="32.5 18.40" stroke-dashoffset="6.10"/>
<path d="M729.9 3106.4 H741.8"/>
<path d="M732 3104.2 V4097" stroke-dasharray="32.5 18.45" stroke-dashoffset="48.75"/>
<path d="M729.9 4094.8 H2264.5" stroke-dasharray="32.5 18.35" stroke-dashoffset="19.05"/>
<path d="M1497.4 3104.2 V4097" stroke-dasharray="32.5 18.30" stroke-dashoffset="49.50"/>
<path d="M1516.2 3106.3 H2264.5" stroke-dasharray="32.5 18.35" stroke-dashoffset="0.00"/>
<path d="M2262.3 3123.2 V4097" stroke-dasharray="32.5 18.40" stroke-dashoffset="0.00"/>
</g>
<!-- 70_neuron.svg -->
<defs>
<linearGradient id="gMy" x1="0" y1="0" x2="1" y2="0"><stop offset="0" stop-color="#8ea24a"/><stop offset=".45" stop-color="#d3e58c"/><stop offset="1" stop-color="#8ea24a"/></linearGradient>
<radialGradient id="gSoma" cx=".5" cy=".5" r=".6"><stop offset="0" stop-color="#b9def5"/><stop offset=".7" stop-color="#8fbcd9"/><stop offset="1" stop-color="#23415c"/></radialGradient>
<radialGradient id="gBrain" cx=".45" cy=".35" r=".75"><stop offset="0" stop-color="#b6bccb"/><stop offset=".7" stop-color="#a4abba"/><stop offset="1" stop-color="#8a90a0"/></radialGradient>
<filter id="n2" x="-20%" y="-20%" width="140%" height="140%"><feGaussianBlur stdDeviation="2.2"/></filter>
<filter id="n4" x="-20%" y="-20%" width="140%" height="140%"><feGaussianBlur stdDeviation="4"/></filter>
</defs>
<g id="neuron">
<g fill="none" stroke="#16283a" stroke-linecap="round" stroke-linejoin="round">
<path d="M2362 2277 Q2356 2290 2358 2305 L2376 2372 L2388 2395 L2417 2462 Q2432 2495 2429 2517 L2445 2580 L2443 2635" stroke-width="5"/>
<path d="M2478 2254 L2491 2315 L2502 2385 L2502 2458 L2494 2525 L2493 2560" stroke-width="4.5"/>
<path d="M2443 2635 Q2425 2665 2403 2690 Q2380 2700 2354 2698 M2403 2690 Q2385 2715 2362 2741" stroke-width="8"/>
<path d="M2443 2635 Q2458 2650 2470 2659 Q2488 2658 2502 2663 M2470 2659 Q2478 2672 2484 2682" stroke-width="8"/>
<path d="M2443 2635 Q2432 2670 2435 2702 Q2440 2750 2451 2789 Q2460 2815 2464 2832 L2470 2871" stroke-width="6"/>
<path d="M2493 2560 Q2484 2580 2486 2604" stroke-width="6"/>
<path d="M2493 2560 Q2508 2585 2525 2604 Q2555 2630 2577 2655 Q2595 2685 2604 2710 Q2625 2740 2644 2761 Q2650 2775 2649 2779" stroke-width="6"/>
<path d="M2530 2606 Q2555 2612 2580 2614 Q2592 2600 2596 2586 M2580 2614 Q2598 2622 2616 2621" stroke-width="8"/>
<path d="M2604 2710 Q2590 2722 2570 2724 Q2562 2745 2566 2795 Q2540 2800 2516 2796 Q2498 2792 2483 2787" stroke-width="8"/>
<path d="M2604 2712 Q2612 2730 2618 2748 M2608 2722 Q2600 2740 2596 2752" stroke-width="5"/>
<path d="M2453 2790 Q2470 2780 2495 2782 M2464 2832 Q2490 2828 2505 2838 M2464 2812 Q2470 2835 2478 2850" stroke-width="9"/>
<path d="M2566 2795 Q2585 2790 2605 2786" stroke-width="9"/>
<path d="M2470 2871 L2466 2866" stroke-width="6"/>
<path d="M2618 2945 L2653 3040 L2690 3103 L2713 3111 L2755 3173 L2771 3207 L2800 3281 L2809 3300" stroke-width="5"/>
</g>
<path d="M2619.0 2894.3 C2621.1 2887.9 2604.3 2872.9 2599.1 2864.0 C2594.0 2855.1 2584.0 2836.7 2580.3 2827.4 C2576.7 2818.1 2574.7 2798.5 2572.0 2794.3 C2569.3 2790.1 2561.7 2790.6 2560.0 2795.7 C2558.4 2800.8 2558.2 2821.9 2559.7 2832.6 C2561.1 2843.3 2567.8 2865.4 2570.9 2876.0 C2574.0 2886.5 2576.6 2909.3 2583.0 2911.7 C2589.4 2914.2 2616.8 2900.6 2619.0 2894.3 Z" fill="#16283a"/>
<path d="M2615.6 2913.6 C2622.2 2911.6 2631.1 2887.0 2636.1 2877.7 C2641.1 2868.5 2650.2 2852.2 2653.0 2844.1 C2655.8 2836.1 2657.8 2821.4 2657.3 2817.4 C2656.7 2813.5 2651.4 2812.1 2648.7 2814.6 C2646.0 2817.0 2641.7 2829.5 2637.0 2835.9 C2632.4 2842.2 2620.7 2854.7 2613.9 2862.3 C2607.2 2869.8 2586.2 2885.6 2586.4 2892.4 C2586.7 2899.3 2608.9 2915.5 2615.6 2913.6 Z" fill="#16283a"/>
<path d="M2608.3 2885.5 C2605.9 2879.4 2583.9 2877.2 2575.1 2875.1 C2566.4 2873.0 2550.5 2870.6 2542.7 2869.7 C2535.0 2868.8 2524.1 2868.7 2517.1 2868.7 C2510.2 2868.7 2497.3 2869.5 2490.5 2869.8 C2483.7 2870.1 2469.5 2870.1 2466.2 2871.0 C2462.9 2872.0 2462.7 2875.5 2465.8 2877.0 C2468.9 2878.5 2483.0 2880.8 2489.5 2882.2 C2496.1 2883.6 2508.5 2885.7 2514.9 2887.3 C2521.2 2888.9 2530.6 2892.0 2537.3 2894.3 C2543.9 2896.6 2557.3 2901.4 2564.9 2904.9 C2572.4 2908.4 2587.9 2923.1 2593.7 2920.5 C2599.5 2917.9 2610.8 2891.5 2608.3 2885.5 Z" fill="#16283a"/>
<path d="M2587.3 2889.8 C2580.6 2890.1 2570.7 2911.6 2564.6 2918.3 C2558.5 2924.9 2547.2 2934.9 2541.6 2939.4 C2535.9 2943.9 2527.8 2950.3 2522.5 2952.0 C2517.2 2953.8 2506.7 2953.1 2501.6 2952.4 C2496.5 2951.7 2486.8 2947.0 2484.2 2946.8 C2481.5 2946.6 2479.9 2949.0 2481.8 2951.2 C2483.7 2953.4 2492.5 2961.1 2498.4 2963.6 C2504.2 2966.1 2518.0 2970.4 2525.5 2970.0 C2533.0 2969.6 2546.5 2964.4 2554.4 2960.6 C2562.4 2956.8 2577.4 2947.7 2585.4 2941.7 C2593.4 2935.8 2614.4 2923.1 2614.7 2916.2 C2614.9 2909.3 2594.0 2889.5 2587.3 2889.8 Z" fill="#16283a"/>
<path d="M2584.1 2901.6 C2579.5 2906.1 2584.4 2929.4 2584.0 2938.1 C2583.6 2946.8 2582.4 2959.5 2581.2 2967.1 C2580.0 2974.6 2577.4 2988.7 2574.8 2994.9 C2572.1 3001.2 2565.2 3009.4 2561.3 3014.1 C2557.4 3018.8 2547.2 3027.4 2545.5 3030.0 C2543.8 3032.7 2545.4 3035.1 2548.5 3034.0 C2551.6 3032.9 2563.3 3026.0 2568.7 3021.9 C2574.1 3017.8 2584.7 3009.6 2589.2 3003.1 C2593.8 2996.5 2599.8 2981.1 2602.8 2972.9 C2605.8 2964.8 2610.0 2951.0 2612.0 2941.9 C2614.0 2932.7 2621.7 2909.7 2617.9 2904.4 C2614.2 2899.0 2588.6 2897.1 2584.1 2901.6 Z" fill="#16283a"/>
<path d="M2593.3 2920.4 C2596.1 2926.6 2619.6 2929.7 2629.1 2932.6 C2638.6 2935.4 2655.0 2940.1 2664.5 2941.9 C2674.0 2943.7 2693.2 2948.1 2700.5 2946.0 C2707.8 2943.9 2715.2 2930.9 2719.1 2926.1 C2723.0 2921.3 2728.9 2912.3 2729.8 2909.7 C2730.8 2907.1 2728.7 2905.2 2726.2 2906.3 C2723.6 2907.4 2714.7 2915.0 2710.9 2917.9 C2707.1 2920.8 2702.7 2928.0 2697.5 2928.0 C2692.2 2928.1 2679.1 2921.4 2671.5 2918.1 C2664.0 2914.8 2649.2 2907.8 2640.9 2903.4 C2632.5 2899.1 2615.0 2883.4 2608.7 2885.6 C2602.3 2887.9 2590.6 2914.1 2593.3 2920.4 Z" fill="#16283a"/>
<path d="M2655.6 2819.6 C2659.2 2818.4 2670.8 2806.9 2676.7 2802.7 C2682.6 2798.6 2697.1 2791.1 2700.0 2788.8 C2702.8 2786.4 2701.6 2784.1 2698.0 2785.2 C2694.5 2786.4 2679.6 2793.6 2673.3 2797.3 C2666.9 2800.9 2652.7 2809.4 2650.4 2812.4 C2648.0 2815.3 2652.1 2820.9 2655.6 2819.6 Z" fill="#16283a"/>
<path d="M2650.1 2819.4 C2652.4 2822.8 2667.5 2834.6 2673.3 2837.8 C2679.1 2840.9 2690.6 2842.7 2693.4 2842.9 C2696.2 2843.1 2696.8 2840.5 2694.6 2839.1 C2692.4 2837.7 2681.8 2835.8 2676.7 2832.2 C2671.5 2828.7 2659.5 2814.3 2655.9 2812.6 C2652.4 2810.9 2647.7 2816.0 2650.1 2819.4 Z" fill="#16283a"/>
<path d="M2657.5 2815.8 C2658.4 2812.9 2656.3 2799.6 2655.5 2794.6 C2654.7 2789.7 2652.6 2780.6 2651.5 2778.5 C2650.3 2776.5 2646.9 2777.2 2646.5 2779.5 C2646.2 2781.7 2648.3 2790.5 2648.5 2795.4 C2648.8 2800.3 2647.3 2813.5 2648.5 2816.2 C2649.7 2818.9 2656.6 2818.7 2657.5 2815.8 Z" fill="#16283a"/>
<path d="M2497.0 2875.4 C2494.3 2877.0 2485.9 2888.4 2482.6 2893.2 C2479.3 2897.9 2473.2 2908.3 2472.3 2910.9 C2471.4 2913.6 2473.7 2915.0 2475.7 2913.1 C2477.7 2911.2 2483.7 2901.1 2487.4 2896.8 C2491.0 2892.5 2501.7 2883.5 2503.0 2880.6 C2504.3 2877.8 2499.7 2873.7 2497.0 2875.4 Z" fill="#16283a"/>
<path d="M2519.6 2960.1 C2517.8 2963.7 2516.1 2981.4 2514.8 2989.4 C2513.5 2997.3 2510.2 3015.5 2510.0 3019.6 C2509.9 3023.7 2512.5 3024.3 2514.0 3020.4 C2515.4 3016.5 2519.3 2998.4 2521.2 2990.6 C2523.1 2982.9 2528.6 2966.0 2528.4 2961.9 C2528.2 2957.8 2521.4 2956.4 2519.6 2960.1 Z" fill="#16283a"/>
<path d="M2578.0 2999.4 C2577.4 3002.2 2580.5 3014.7 2581.0 3020.1 C2581.5 3025.6 2581.3 3037.4 2582.0 3040.0 C2582.7 3042.6 2585.3 3042.7 2586.0 3040.0 C2586.7 3037.3 2587.0 3025.4 2587.0 3019.9 C2587.0 3014.3 2587.2 3001.4 2586.0 2998.6 C2584.8 2995.9 2578.7 2996.5 2578.0 2999.4 Z" fill="#16283a"/>
<path d="M2696.2 2940.5 C2698.6 2943.7 2713.9 2952.2 2719.8 2957.4 C2725.7 2962.5 2737.3 2976.7 2740.5 2979.3 C2743.7 2981.9 2745.7 2980.2 2743.5 2976.7 C2741.3 2973.1 2729.8 2958.4 2724.2 2952.6 C2718.7 2946.9 2705.5 2935.1 2701.8 2933.5 C2698.0 2931.8 2693.8 2937.4 2696.2 2940.5 Z" fill="#16283a"/>
<path d="M2694.7 2938.2 C2694.9 2942.8 2702.9 2962.5 2704.8 2970.6 C2706.7 2978.8 2707.9 2995.4 2709.0 2999.2 C2710.1 3003.0 2712.7 3002.8 2713.0 2998.8 C2713.3 2994.8 2712.5 2977.8 2711.2 2969.4 C2709.9 2961.0 2705.5 2940.0 2703.3 2935.8 C2701.1 2931.7 2694.5 2933.5 2694.7 2938.2 Z" fill="#16283a"/>
<path d="M2568.0 2872.0 C2575.0 2864.8 2589.0 2861.7 2600.0 2862.0 C2611.0 2862.3 2626.3 2866.8 2634.0 2874.0 C2641.7 2881.2 2646.0 2894.3 2646.0 2905.0 C2646.0 2915.7 2641.3 2930.5 2634.0 2938.0 C2626.7 2945.5 2612.7 2950.0 2602.0 2950.0 C2591.3 2950.0 2577.3 2945.5 2570.0 2938.0 C2562.7 2930.5 2558.3 2916.0 2558.0 2905.0 C2557.7 2894.0 2561.0 2879.2 2568.0 2872.0 Z" fill="#16283a"/>
<g filter="url(#n2)">
<path d="M2614.9 2896.2 C2616.0 2890.4 2600.2 2874.8 2595.0 2865.8 C2589.8 2856.7 2579.6 2837.9 2576.0 2828.5 C2572.3 2819.0 2569.0 2799.3 2567.5 2794.8 C2566.0 2790.4 2565.0 2790.3 2564.5 2795.2 C2564.0 2800.1 2562.6 2821.0 2564.0 2831.5 C2565.4 2842.1 2572.0 2863.8 2575.0 2874.2 C2578.1 2884.7 2581.7 2906.8 2587.1 2909.8 C2592.4 2912.7 2613.9 2902.1 2614.9 2896.2 Z" fill="#9fcbe8"/>
<path d="M2611.9 2910.9 C2617.6 2908.3 2627.4 2884.3 2632.4 2875.2 C2637.3 2866.0 2646.2 2849.9 2649.0 2842.1 C2651.8 2834.2 2653.0 2819.7 2653.5 2816.2 C2653.9 2812.7 2654.2 2812.9 2652.5 2815.8 C2650.9 2818.7 2645.7 2831.4 2641.0 2837.9 C2636.4 2844.5 2624.4 2857.2 2617.6 2864.8 C2610.8 2872.5 2590.8 2888.9 2590.1 2895.1 C2589.3 2901.2 2606.3 2913.6 2611.9 2910.9 Z" fill="#9fcbe8"/>
<path d="M2606.6 2889.6 C2603.6 2885.0 2581.8 2882.8 2573.0 2881.3 C2564.2 2879.8 2548.4 2878.8 2540.8 2878.3 C2533.2 2877.7 2519.4 2877.5 2516.1 2877.5 C2512.8 2877.5 2512.8 2877.4 2515.9 2878.5 C2519.0 2879.6 2532.4 2883.1 2539.2 2885.7 C2546.0 2888.4 2559.5 2894.6 2567.0 2898.7 C2574.5 2902.8 2590.1 2917.6 2595.4 2916.4 C2600.7 2915.2 2609.6 2894.3 2606.6 2889.6 Z" fill="#9fcbe8"/>
<path d="M2590.6 2892.9 C2584.9 2894.3 2574.9 2916.1 2569.0 2923.3 C2563.1 2930.5 2552.2 2942.0 2546.2 2947.0 C2540.2 2952.0 2526.7 2958.6 2523.8 2960.5 C2520.9 2962.5 2520.7 2962.5 2524.2 2961.5 C2527.7 2960.4 2542.2 2956.3 2549.8 2953.0 C2557.4 2949.7 2572.8 2942.1 2581.0 2936.7 C2589.2 2931.4 2610.2 2918.9 2611.4 2913.1 C2612.7 2907.2 2596.2 2891.6 2590.6 2892.9 Z" fill="#9fcbe8"/>
<path d="M2588.5 2902.0 C2585.5 2906.7 2590.3 2930.0 2590.4 2939.0 C2590.5 2947.9 2590.4 2961.3 2589.3 2969.3 C2588.1 2977.2 2582.4 2994.8 2581.5 2998.8 C2580.6 3002.8 2580.7 3002.9 2582.5 2999.2 C2584.2 2995.4 2591.7 2978.5 2594.7 2970.7 C2597.8 2963.0 2603.1 2949.9 2605.6 2941.0 C2608.1 2932.1 2615.7 2909.2 2613.5 2904.0 C2611.2 2898.8 2591.6 2897.3 2588.5 2902.0 Z" fill="#9fcbe8"/>
<path d="M2595.1 2916.3 C2598.5 2921.1 2622.1 2924.1 2631.6 2926.3 C2641.2 2928.6 2658.0 2931.9 2667.0 2933.4 C2676.0 2934.8 2694.6 2937.1 2698.9 2937.5 C2703.2 2937.9 2703.1 2938.0 2699.1 2936.5 C2695.1 2935.1 2677.1 2930.2 2669.0 2926.6 C2660.9 2923.1 2646.6 2914.6 2638.4 2909.7 C2630.1 2904.7 2612.6 2888.9 2606.9 2889.7 C2601.1 2890.6 2591.8 2911.4 2595.1 2916.3 Z" fill="#9fcbe8"/>
<path d="M2576.0 2880.0 C2581.3 2874.2 2591.7 2869.8 2600.0 2870.0 C2608.3 2870.2 2620.0 2875.2 2626.0 2881.0 C2632.0 2886.8 2636.0 2896.8 2636.0 2905.0 C2636.0 2913.2 2631.7 2924.2 2626.0 2930.0 C2620.3 2935.8 2610.0 2940.0 2602.0 2940.0 C2594.0 2940.0 2583.7 2935.8 2578.0 2930.0 C2572.3 2924.2 2568.3 2913.3 2568.0 2905.0 C2567.7 2896.7 2570.7 2885.8 2576.0 2880.0 Z" fill="#a9d3ee"/>
</g>
<ellipse cx="2600" cy="2902" rx="11" ry="18" fill="#fdfdfd" transform="rotate(-12 2600 2902)"/>
<g transform="translate(2358 2305) rotate(-15.0)"><rect x="-14.0" y="0" width="28" height="69.4" rx="6.2" fill="url(#gMy)"/></g>
<g transform="translate(2388 2395) rotate(-23.4)"><rect x="-14.0" y="0" width="28" height="73.0" rx="6.2" fill="url(#gMy)"/></g>
<g transform="translate(2429 2517) rotate(-14.3)"><rect x="-13.0" y="0" width="26" height="65.0" rx="5.7" fill="url(#gMy)"/></g>
<g transform="translate(2491 2315) rotate(-8.9)"><rect x="-10.0" y="0" width="20" height="70.9" rx="4.4" fill="url(#gMy)"/></g>
<g transform="translate(2502 2458) rotate(6.8)"><rect x="-9.5" y="0" width="19" height="67.5" rx="4.2" fill="url(#gMy)"/></g>
<g transform="translate(2653 3040) rotate(-30.4)"><rect x="-8.5" y="0" width="17" height="73.1" rx="3.7" fill="url(#gMy)"/></g>
<g transform="translate(2713 3111) rotate(-34.1)"><rect x="-8.5" y="0" width="17" height="74.9" rx="3.7" fill="url(#gMy)"/></g>
<g transform="translate(2771 3207) rotate(-21.4)"><rect x="-8.5" y="0" width="17" height="79.5" rx="3.7" fill="url(#gMy)"/></g>
<path d="M2813 3315 Q2812 3420 2785 3508 Q2765 3570 2732 3640" fill="none" stroke="#000" stroke-width="7.5" stroke-dasharray="14 15"/>
<path d="M2690 3695 L2717 3643 L2745 3665 Z" fill="#000"/>
</g>
<g id="brain">
<path d="M2350.0 3866.0 C2351.3 3854.8 2357.0 3837.8 2366.0 3824.0 C2375.0 3810.2 2387.3 3794.7 2404.0 3783.0 C2420.7 3771.3 2441.8 3761.7 2466.0 3754.0 C2490.2 3746.3 2522.7 3739.8 2549.0 3737.0 C2575.3 3734.2 2603.2 3734.2 2624.0 3737.0 C2644.8 3739.8 2658.8 3747.0 2674.0 3754.0 C2689.2 3761.0 2701.8 3768.0 2715.0 3779.0 C2728.2 3790.0 2742.5 3806.2 2753.0 3820.0 C2763.5 3833.8 2771.8 3847.5 2778.0 3862.0 C2784.2 3876.5 2788.7 3891.2 2790.0 3907.0 C2791.3 3922.8 2789.5 3940.3 2786.0 3957.0 C2782.5 3973.7 2776.7 3991.8 2769.0 4007.0 C2761.3 4022.2 2751.7 4037.0 2740.0 4048.0 C2728.3 4059.0 2715.7 4069.5 2699.0 4073.0 C2682.3 4076.5 2658.0 4071.7 2640.0 4069.0 C2622.0 4066.3 2609.0 4063.2 2591.0 4057.0 C2573.0 4050.8 2548.7 4040.3 2532.0 4032.0 C2515.3 4023.7 2499.8 4015.3 2491.0 4007.0 C2482.2 3998.7 2479.7 3989.0 2479.0 3982.0 C2478.3 3975.0 2489.2 3969.8 2487.0 3965.0 C2484.8 3960.2 2474.3 3959.8 2466.0 3953.0 C2457.7 3946.2 2449.5 3931.7 2437.0 3924.0 C2424.5 3916.3 2404.2 3912.5 2391.0 3907.0 C2377.8 3901.5 2364.8 3897.8 2358.0 3891.0 C2351.2 3884.2 2348.7 3877.2 2350.0 3866.0 Z" fill="url(#gBrain)"/>
<g fill="none" stroke="#2b2f3a" stroke-linecap="round" stroke-linejoin="round" filter="url(#n2)">
<path d="M2403.8 3795.2 C2408.2 3793.5 2427.6 3786.6 2437.0 3782.7 C2446.4 3778.8 2461.7 3770.0 2474.4 3766.1 C2487.1 3762.2 2518.1 3753.6 2532.5 3753.6 C2546.9 3753.6 2575.7 3764.4 2582.4 3766.1" stroke-width="7"/>
<path d="M2408.0 3803.5 C2410.2 3804.6 2416.8 3812.9 2424.6 3811.8 C2432.3 3810.7 2456.7 3799.0 2466.1 3795.2 C2475.5 3791.3 2486.3 3782.2 2495.2 3782.7 C2504.0 3783.3 2519.8 3799.3 2532.5 3799.3 C2545.3 3799.3 2576.3 3787.1 2590.7 3782.7 C2605.1 3778.3 2631.1 3766.1 2640.5 3766.1 C2649.9 3766.1 2658.5 3780.5 2661.3 3782.7" stroke-width="8"/>
<path d="M2395.5 3832.5 C2404.9 3830.3 2447.8 3819.3 2466.1 3815.9 C2484.4 3812.6 2515.9 3810.4 2532.5 3807.6 C2549.1 3804.9 2577.9 3794.1 2590.7 3795.2 C2603.4 3796.3 2619.2 3813.2 2628.0 3815.9 C2636.9 3818.7 2648.8 3817.0 2657.1 3815.9 C2665.4 3814.8 2685.9 3808.7 2690.3 3807.6" stroke-width="9"/>
<path d="M2657.1 3761.9 C2658.2 3766.4 2661.0 3789.1 2665.4 3795.2 C2669.8 3801.3 2685.9 3800.4 2690.3 3807.6 C2694.8 3814.8 2695.3 3838.1 2698.6 3849.1 C2702.0 3860.2 2713.0 3885.1 2715.2 3890.7" stroke-width="9"/>
<path d="M2383.0 3865.8 C2386.4 3863.5 2396.9 3851.4 2408.0 3849.1 C2419.0 3846.9 2453.9 3851.4 2466.1 3849.1 C2478.3 3846.9 2490.5 3834.2 2499.3 3832.5 C2508.2 3830.9 2523.7 3832.3 2532.5 3836.7 C2541.4 3841.1 2558.0 3864.1 2565.8 3865.8 C2573.5 3867.4 2583.5 3854.7 2590.7 3849.1 C2597.9 3843.6 2615.9 3827.6 2619.7 3824.2" stroke-width="8"/>
<path d="M2387.2 3899.0 C2388.0 3896.8 2392.3 3886.8 2393.4 3882.4 C2394.5 3877.9 2395.2 3868.0 2395.5 3865.8" stroke-width="6"/>
<path d="M2437.0 3903.1 C2442.0 3900.9 2466.1 3887.1 2474.4 3886.5 C2482.7 3886.0 2493.8 3892.9 2499.3 3899.0 C2504.9 3905.1 2507.1 3926.1 2515.9 3932.2 C2524.8 3938.3 2554.7 3946.9 2565.8 3944.7 C2576.8 3942.4 2589.0 3922.8 2599.0 3915.6 C2608.9 3908.4 2630.5 3896.8 2640.5 3890.7 C2650.5 3884.6 2669.3 3872.7 2673.7 3869.9" stroke-width="9"/>
<path d="M2466.1 3932.2 C2468.9 3931.6 2478.0 3931.4 2486.9 3928.0 C2495.7 3924.7 2526.4 3910.1 2532.5 3907.3" stroke-width="6"/>
<path d="M2499.3 3967.5 C2503.7 3965.0 2522.6 3951.9 2532.5 3948.8 C2542.5 3945.8 2559.1 3944.5 2574.1 3944.7 C2589.0 3944.8 2635.2 3949.0 2644.7 3949.6" stroke-width="10"/>
<path d="M2511.8 3994.5 C2514.5 3997.3 2526.4 4011.9 2532.5 4015.2 C2538.6 4018.6 2554.1 4018.8 2557.5 4019.4" stroke-width="7"/>
<path d="M2590.7 4006.9 C2594.0 4003.6 2610.1 3984.8 2615.6 3982.0 C2621.1 3979.3 2630.0 3985.6 2632.2 3986.2" stroke-width="7"/>
<path d="M2644.7 3948.8 C2647.4 3944.4 2658.2 3923.9 2665.4 3915.6 C2672.6 3907.3 2691.4 3893.2 2698.6 3886.5 C2705.8 3879.9 2715.0 3873.0 2719.4 3865.8 C2723.8 3858.6 2730.2 3837.0 2731.9 3832.5" stroke-width="9"/>
<path d="M2731.9 3849.1 C2735.2 3846.9 2751.8 3831.4 2756.8 3832.5 C2761.8 3833.6 2767.6 3854.1 2769.2 3857.5" stroke-width="7"/>
<path d="M2657.1 3998.6 C2661.5 3996.4 2682.6 3988.7 2690.3 3982.0 C2698.1 3975.4 2708.6 3956.0 2715.2 3948.8 C2721.9 3941.6 2735.2 3929.7 2740.2 3928.0 C2745.1 3926.4 2752.1 3930.3 2752.6 3936.4 C2753.2 3942.4 2749.3 3964.3 2744.3 3973.7 C2739.3 3983.1 2722.4 4000.3 2715.2 4006.9 C2708.1 4013.6 2697.0 4022.4 2690.3 4023.6 C2683.7 4024.7 2668.7 4016.4 2665.4 4015.2" stroke-width="8"/>
<path d="M2661.3 4048.5 C2666.2 4046.8 2689.2 4041.5 2698.6 4036.0 C2708.1 4030.5 2724.1 4015.2 2731.9 4006.9 C2739.6 3998.6 2753.5 3978.2 2756.8 3973.7" stroke-width="8"/>
<path d="M2715.2 3886.5 C2719.7 3887.1 2740.2 3887.9 2748.5 3890.7 C2756.8 3893.4 2773.7 3905.1 2777.5 3907.3" stroke-width="7"/>
<path d="M2586.5 4036.0 C2589.8 4037.7 2602.0 4046.3 2611.4 4048.5 C2620.8 4050.7 2651.0 4052.1 2657.1 4052.6" stroke-width="7"/>
<path d="M2532.5 3757.8 C2535.3 3758.9 2547.2 3766.1 2553.3 3766.1 C2559.4 3766.1 2574.9 3758.9 2578.2 3757.8" stroke-width="5"/>
<path d="M2723.6 4040.2 C2726.9 4036.8 2742.9 4021.9 2748.5 4015.2 C2754.0 4008.6 2762.9 3993.7 2765.1 3990.3" stroke-width="6"/>
</g>
</g>
<!-- 80_box2.svg -->
<defs>
<linearGradient id="gArrB" x1="0" y1="0" x2="1" y2="0"><stop offset="0" stop-color="#e8eeff"/><stop offset=".55" stop-color="#9db0fa"/><stop offset="1" stop-color="#3f63f2"/></linearGradient>
<linearGradient id="gArrR" x1="0" y1="0" x2="0" y2="1"><stop offset="0" stop-color="#d8222c"/><stop offset=".5" stop-color="#ee8a90"/><stop offset="1" stop-color="#fbe0e2"/></linearGradient>
<linearGradient id="gW1" x1="0" y1="0" x2="1" y2="0.4"><stop offset="0" stop-color="#dcdcdc"/><stop offset=".45" stop-color="#ffffff"/><stop offset="1" stop-color="#c8c8c8"/></linearGradient>
<linearGradient id="gW2" x1="0" y1="0" x2="0" y2="1"><stop offset="0" stop-color="#ffffff"/><stop offset=".6" stop-color="#f4f4f4"/><stop offset="1" stop-color="#cfcfcf"/></linearGradient>
<radialGradient id="gSb" cx=".45" cy=".4" r=".7"><stop offset="0" stop-color="#f5dfe6"/><stop offset="1" stop-color="#e4bdca"/></radialGradient>
<pattern id="pSb" width="11" height="11" patternUnits="userSpaceOnUse" patternTransform="rotate(25)"><circle cx="4" cy="4" r="1.8" fill="#c9a0b2"/></pattern>
<pattern id="pHarm" width="9" height="9" patternUnits="userSpaceOnUse" patternTransform="rotate(35)"><rect width="9" height="9" fill="#9c9c9c"/><path d="M0 2 Q4 0 9 3 M0 7 Q5 5 9 8" stroke="#e8e8e8" stroke-width="1.6" fill="none"/><path d="M2 0 Q3 5 1 9" stroke="#4a4a4a" stroke-width="1.2" fill="none"/></pattern>
<filter id="x2" x="-20%" y="-20%" width="140%" height="140%"><feGaussianBlur stdDeviation="1.5"/></filter>
</defs>
<g id="box2">
<path d="M1189.2 3203.5 L1203.2 3211.5 L1189.2 3219.5 L1240.6 3219.5 L1240.6 3229.5 L1266.6 3211.5 L1240.6 3193.5 L1240.6 3203.5 Z" fill="url(#gArrB)"/>
<path d="M1186.3 3909.9 L1200.3 3917.9 L1186.3 3925.9 L1237.7 3925.9 L1237.7 3935.9 L1263.7 3917.9 L1237.7 3899.9 L1237.7 3909.9 Z" fill="url(#gArrB)"/>
<path d="M1921 3786 L1940 3812 L1931 3812 L1931 3863 L1921 3853 L1911 3863 L1911 3812 L1902 3812 Z" fill="url(#gArrR)"/>
<g opacity="0.5">
<path d="M1296.0 3508.0 C1299.8 3493.7 1308.7 3470.7 1319.0 3461.0 C1329.3 3451.3 1345.0 3448.7 1358.0 3450.0 C1371.0 3451.3 1384.7 3460.7 1397.0 3469.0 C1409.3 3477.3 1424.3 3490.8 1432.0 3500.0 C1439.7 3509.2 1443.0 3516.2 1443.0 3524.0 C1443.0 3531.8 1440.3 3541.3 1432.0 3547.0 C1423.7 3552.7 1407.3 3554.2 1393.0 3558.0 C1378.7 3561.8 1359.0 3568.0 1346.0 3570.0 C1333.0 3572.0 1323.3 3573.8 1315.0 3570.0 C1306.7 3566.2 1299.2 3557.3 1296.0 3547.0 C1292.8 3536.7 1292.2 3522.3 1296.0 3508.0 Z" fill="url(#gSb)"/><path d="M1296.0 3508.0 C1299.8 3493.7 1308.7 3470.7 1319.0 3461.0 C1329.3 3451.3 1345.0 3448.7 1358.0 3450.0 C1371.0 3451.3 1384.7 3460.7 1397.0 3469.0 C1409.3 3477.3 1424.3 3490.8 1432.0 3500.0 C1439.7 3509.2 1443.0 3516.2 1443.0 3524.0 C1443.0 3531.8 1440.3 3541.3 1432.0 3547.0 C1423.7 3552.7 1407.3 3554.2 1393.0 3558.0 C1378.7 3561.8 1359.0 3568.0 1346.0 3570.0 C1333.0 3572.0 1323.3 3573.8 1315.0 3570.0 C1306.7 3566.2 1299.2 3557.3 1296.0 3547.0 C1292.8 3536.7 1292.2 3522.3 1296.0 3508.0 Z" fill="url(#pSb)"/>
<g stroke="#82b650" stroke-linecap="round" fill="none">
<path d="M1303.5 3500.5 Q1320.0 3511.6 1337.4 3507.2" stroke-width="12.2"/>
<path d="M1303.5 3500.5 Q1312.0 3518.1 1327.2 3524.2" stroke-width="13.2"/>
<path d="M1303.5 3500.5 Q1303.1 3526.7 1316.6 3545.5" stroke-width="13.8"/>
<path d="M1303.5 3500.5 Q1296.2 3523.1 1302.9 3544.5" stroke-width="11.9"/>
<path d="M1303.5 3500.5 Q1284.4 3511.9 1276.9 3534.0" stroke-width="13.2"/>
<path d="M1303.5 3500.5 Q1287.3 3497.4 1274.2 3507.3" stroke-width="13.6"/>
<path d="M1303.5 3500.5 Q1284.7 3486.8 1264.1 3491.0" stroke-width="10.6"/>
<path d="M1303.5 3500.5 Q1300.1 3481.6 1287.8 3470.7" stroke-width="12.3"/>
<path d="M1303.5 3500.5 Q1304.2 3473.9 1290.8 3454.6" stroke-width="13.3"/>
<path d="M1303.5 3500.5 Q1321.4 3485.5 1326.2 3461.6" stroke-width="13.2"/>
<path d="M1303.5 3500.5 Q1319.4 3497.8 1329.2 3484.0" stroke-width="13.7"/>
</g>
<ellipse cx="1303.5" cy="3500.5" rx="18.7" ry="22.2" fill="#82b650"/>
</g>
<g opacity="0.8">
<path d="M1277.0 3710.0 C1281.0 3698.3 1296.5 3676.0 1308.0 3663.0 C1319.5 3650.0 1334.5 3636.5 1346.0 3632.0 C1357.5 3627.5 1367.8 3629.5 1377.0 3636.0 C1386.2 3642.5 1393.8 3656.2 1401.0 3671.0 C1408.2 3685.8 1416.8 3710.8 1420.0 3725.0 C1423.2 3739.2 1423.8 3748.2 1420.0 3756.0 C1416.2 3763.8 1407.3 3770.7 1397.0 3772.0 C1386.7 3773.3 1371.7 3767.8 1358.0 3764.0 C1344.3 3760.2 1327.3 3754.2 1315.0 3749.0 C1302.7 3743.8 1290.3 3739.5 1284.0 3733.0 C1277.7 3726.5 1273.0 3721.7 1277.0 3710.0 Z" fill="url(#gSb)"/><path d="M1277.0 3710.0 C1281.0 3698.3 1296.5 3676.0 1308.0 3663.0 C1319.5 3650.0 1334.5 3636.5 1346.0 3632.0 C1357.5 3627.5 1367.8 3629.5 1377.0 3636.0 C1386.2 3642.5 1393.8 3656.2 1401.0 3671.0 C1408.2 3685.8 1416.8 3710.8 1420.0 3725.0 C1423.2 3739.2 1423.8 3748.2 1420.0 3756.0 C1416.2 3763.8 1407.3 3770.7 1397.0 3772.0 C1386.7 3773.3 1371.7 3767.8 1358.0 3764.0 C1344.3 3760.2 1327.3 3754.2 1315.0 3749.0 C1302.7 3743.8 1290.3 3739.5 1284.0 3733.0 C1277.7 3726.5 1273.0 3721.7 1277.0 3710.0 Z" fill="url(#pSb)"/>
<g stroke="#6aa83c" stroke-linecap="round" fill="none">
<path d="M1309.5 3667.0 Q1329.0 3675.3 1349.1 3671.3" stroke-width="12.0"/>
<path d="M1309.5 3667.0 Q1326.1 3681.7 1349.0 3683.6" stroke-width="13.5"/>
<path d="M1309.5 3667.0 Q1314.3 3687.7 1333.5 3700.0" stroke-width="12.8"/>
<path d="M1309.5 3667.0 Q1298.4 3682.6 1302.4 3699.3" stroke-width="10.9"/>
<path d="M1309.5 3667.0 Q1288.3 3675.2 1279.5 3691.8" stroke-width="13.5"/>
<path d="M1309.5 3667.0 Q1286.5 3662.2 1266.5 3670.6" stroke-width="10.7"/>
<path d="M1309.5 3667.0 Q1285.3 3654.7 1258.8 3658.4" stroke-width="12.4"/>
<path d="M1309.5 3667.0 Q1304.7 3645.6 1285.0 3632.9" stroke-width="13.0"/>
<path d="M1309.5 3667.0 Q1313.9 3650.4 1304.3 3636.4" stroke-width="9.6"/>
<path d="M1309.5 3667.0 Q1324.6 3656.4 1327.2 3641.3" stroke-width="13.0"/>
<path d="M1309.5 3667.0 Q1330.6 3662.0 1341.7 3647.8" stroke-width="12.9"/>
</g>
<ellipse cx="1309.5" cy="3667.0" rx="23.1" ry="18.9" fill="#6aa83c"/>
</g>
<g opacity="1">
<path d="M1288.0 3881.0 C1291.8 3872.7 1303.3 3858.5 1315.0 3850.0 C1326.7 3841.5 1345.0 3833.3 1358.0 3830.0 C1371.0 3826.7 1384.0 3825.5 1393.0 3830.0 C1402.0 3834.5 1407.5 3844.7 1412.0 3857.0 C1416.5 3869.3 1418.7 3889.0 1420.0 3904.0 C1421.3 3919.0 1422.5 3935.3 1420.0 3947.0 C1417.5 3958.7 1412.2 3970.2 1405.0 3974.0 C1397.8 3977.8 1386.8 3975.2 1377.0 3970.0 C1367.2 3964.8 1357.0 3951.5 1346.0 3943.0 C1335.0 3934.5 1320.0 3926.2 1311.0 3919.0 C1302.0 3911.8 1295.8 3906.3 1292.0 3900.0 C1288.2 3893.7 1284.2 3889.3 1288.0 3881.0 Z" fill="url(#gSb)"/><path d="M1288.0 3881.0 C1291.8 3872.7 1303.3 3858.5 1315.0 3850.0 C1326.7 3841.5 1345.0 3833.3 1358.0 3830.0 C1371.0 3826.7 1384.0 3825.5 1393.0 3830.0 C1402.0 3834.5 1407.5 3844.7 1412.0 3857.0 C1416.5 3869.3 1418.7 3889.0 1420.0 3904.0 C1421.3 3919.0 1422.5 3935.3 1420.0 3947.0 C1417.5 3958.7 1412.2 3970.2 1405.0 3974.0 C1397.8 3977.8 1386.8 3975.2 1377.0 3970.0 C1367.2 3964.8 1357.0 3951.5 1346.0 3943.0 C1335.0 3934.5 1320.0 3926.2 1311.0 3919.0 C1302.0 3911.8 1295.8 3906.3 1292.0 3900.0 C1288.2 3893.7 1284.2 3889.3 1288.0 3881.0 Z" fill="url(#pSb)"/>
<g stroke="#4b9a28" stroke-linecap="round" fill="none">
<path d="M1338.5 3838.0 Q1360.8 3841.6 1379.4 3833.3" stroke-width="9.9"/>
<path d="M1338.5 3838.0 Q1351.0 3854.1 1372.5 3859.4" stroke-width="10.8"/>
<path d="M1338.5 3838.0 Q1343.9 3859.5 1364.7 3872.1" stroke-width="11.8"/>
<path d="M1338.5 3838.0 Q1322.9 3857.9 1327.7 3879.7" stroke-width="9.7"/>
<path d="M1338.5 3838.0 Q1313.6 3849.9 1305.3 3870.6" stroke-width="12.4"/>
<path d="M1338.5 3838.0 Q1318.5 3834.1 1301.2 3841.1" stroke-width="10.0"/>
<path d="M1338.5 3838.0 Q1321.1 3826.2 1299.5 3826.4" stroke-width="11.7"/>
<path d="M1338.5 3838.0 Q1328.9 3818.3 1306.6 3809.0" stroke-width="9.2"/>
<path d="M1338.5 3838.0 Q1348.7 3817.6 1339.9 3798.1" stroke-width="10.3"/>
<path d="M1338.5 3838.0 Q1362.5 3824.0 1368.3 3802.2" stroke-width="10.6"/>
<path d="M1338.5 3838.0 Q1364.8 3837.4 1383.0 3824.0" stroke-width="11.8"/>
</g>
<ellipse cx="1338.5" cy="3838.0" rx="24.0" ry="18.9" fill="#4b9a28"/>
</g>
<path d="M1292.0 3209.0 C1294.3 3198.7 1299.0 3188.5 1308.0 3182.0 C1317.0 3175.5 1331.8 3170.0 1346.0 3170.0 C1360.2 3170.0 1380.7 3176.2 1393.0 3182.0 C1405.3 3187.8 1415.5 3194.7 1420.0 3205.0 C1424.5 3215.3 1423.2 3231.0 1420.0 3244.0 C1416.8 3257.0 1408.7 3270.7 1401.0 3283.0 C1393.3 3295.3 1384.3 3309.0 1374.0 3318.0 C1363.7 3327.0 1348.8 3335.7 1339.0 3337.0 C1329.2 3338.3 1321.2 3334.3 1315.0 3326.0 C1308.8 3317.7 1305.5 3300.7 1302.0 3287.0 C1298.5 3273.3 1295.7 3257.0 1294.0 3244.0 C1292.3 3231.0 1289.7 3219.3 1292.0 3209.0 Z" fill="#efc9cf"/><path d="M1292.0 3209.0 C1294.3 3198.7 1299.0 3188.5 1308.0 3182.0 C1317.0 3175.5 1331.8 3170.0 1346.0 3170.0 C1360.2 3170.0 1380.7 3176.2 1393.0 3182.0 C1405.3 3187.8 1415.5 3194.7 1420.0 3205.0 C1424.5 3215.3 1423.2 3231.0 1420.0 3244.0 C1416.8 3257.0 1408.7 3270.7 1401.0 3283.0 C1393.3 3295.3 1384.3 3309.0 1374.0 3318.0 C1363.7 3327.0 1348.8 3335.7 1339.0 3337.0 C1329.2 3338.3 1321.2 3334.3 1315.0 3326.0 C1308.8 3317.7 1305.5 3300.7 1302.0 3287.0 C1298.5 3273.3 1295.7 3257.0 1294.0 3244.0 C1292.3 3231.0 1289.7 3219.3 1292.0 3209.0 Z" fill="url(#pSb)" opacity=".6"/>
<path d="M1323.0 3217.0 C1327.8 3208.0 1335.7 3195.2 1346.0 3190.0 C1356.3 3184.8 1375.2 3183.5 1385.0 3186.0 C1394.8 3188.5 1402.3 3194.7 1405.0 3205.0 C1407.7 3215.3 1405.7 3233.7 1401.0 3248.0 C1396.3 3262.3 1386.2 3277.5 1377.0 3291.0 C1367.8 3304.5 1355.7 3323.8 1346.0 3329.0 C1336.3 3334.2 1324.5 3329.7 1319.0 3322.0 C1313.5 3314.3 1313.3 3296.0 1313.0 3283.0 C1312.7 3270.0 1315.3 3255.0 1317.0 3244.0 C1318.7 3233.0 1318.2 3226.0 1323.0 3217.0 Z" fill="url(#pHarm)"/>
<path d="M1304 3154 L1330 3172 L1352 3176 L1384 3146 L1394 3150 L1372 3176 L1404 3172 L1420 3194 L1396 3186 L1370 3190 L1352 3184 L1330 3190 L1318 3176 Z" fill="#6fc772"/>
<path d="M782 3838 L788 3868 L800 3882 L806 3894 L860 3905 L900 3902 L906 3890 L918 3884 L932 3860 Z" fill="#a9a9a9"/>
<path d="M812.0 3708.0 C818.4 3704.7 837.4 3708.8 850.0 3712.0 C862.6 3715.2 906.2 3730.1 920.0 3735.0 C933.8 3739.9 964.5 3745.2 968.0 3754.0 C971.5 3762.8 954.2 3797.6 950.0 3810.0 C945.8 3822.4 936.3 3850.7 932.0 3860.0 C927.7 3869.3 921.4 3886.3 913.0 3890.0 C904.6 3893.7 873.2 3894.3 860.0 3892.0 C846.8 3889.7 809.1 3876.3 800.0 3870.0 C790.9 3863.7 784.0 3848.0 782.0 3838.0 C780.0 3828.0 781.5 3795.4 783.0 3784.0 C784.5 3772.6 791.6 3748.9 795.0 3740.0 C798.4 3731.1 805.6 3711.3 812.0 3708.0 Z" fill="url(#gW1)"/>
<path d="M812 3708 Q830 3690 870 3700 Q930 3715 968 3754 Q960 3775 930 3778 Q860 3770 822 3740 Q808 3722 812 3708 Z" fill="#444"/>
<path d="M832.0 3675.0 L865.0 3645.0 L883.0 3657.0 L920.0 3702.0 L962.0 3711.0 L959.0 3760.0 L932.0 3775.0 L841.0 3766.0 L826.0 3723.0 Z" fill="#1d1d1d"/>
<path d="M850 3700 L930 3720 L925 3755 L845 3740 Z" fill="#2e2e2e"/>
<path d="M925 3670 L975 3660 L1000 3680 L990 3720 L960 3730 L928 3712 Z" fill="#b4b6b6"/><path d="M960 3690 Q985 3690 996 3712 L975 3722 Z" fill="#dedede"/>
<path d="M968.0 3681.0 C971.0 3675.3 991.0 3666.0 1001.0 3663.0 C1011.0 3660.0 1058.9 3655.6 1068.0 3651.0 C1077.1 3646.4 1085.1 3625.2 1092.0 3617.0 C1098.9 3608.8 1130.6 3575.9 1137.0 3569.0 C1143.4 3562.1 1151.1 3550.1 1156.0 3548.0 C1160.9 3545.9 1180.9 3546.8 1186.0 3548.0 C1191.1 3549.2 1205.5 3556.4 1207.0 3560.0 C1208.5 3563.6 1203.7 3580.4 1201.0 3584.0 C1198.3 3587.6 1184.9 3593.6 1180.0 3596.0 C1175.1 3598.4 1158.7 3601.3 1152.0 3608.0 C1145.3 3614.7 1119.0 3654.5 1113.0 3663.0 C1107.0 3671.5 1098.0 3688.2 1092.0 3693.0 C1086.0 3697.8 1062.1 3708.0 1053.0 3711.0 C1043.9 3714.0 1009.2 3722.1 1001.0 3723.0 C992.8 3723.9 974.3 3724.2 971.0 3720.0 C967.7 3715.8 965.0 3686.7 968.0 3681.0 Z" fill="url(#gW2)" stroke="#b0b0b0" stroke-width="1"/>
<path d="M1168 3581 L1186 3554 L1207 3563 L1198 3587 L1180 3596 Z" fill="#1c1c1c"/>
<g fill="none" stroke="#8a8a8a" stroke-width="2.5"><path d="M1060 3652 L1096 3690"/><path d="M1130 3572 L1160 3604"/></g>
<path d="M907.0 3451.0 C911.9 3451.0 922.1 3476.4 925.0 3487.0 C927.9 3497.6 929.4 3532.4 932.0 3542.0 C934.6 3551.6 939.3 3565.2 947.0 3569.0 C954.7 3572.8 991.0 3571.2 998.0 3575.0 C1005.0 3578.8 1006.6 3593.5 1007.0 3602.0 C1007.4 3610.5 1006.2 3640.9 1001.0 3648.0 C995.8 3655.1 970.0 3660.2 962.0 3663.0 C954.0 3665.8 937.0 3667.1 932.0 3672.0 C927.0 3676.9 923.7 3702.6 919.0 3705.0 C914.3 3707.4 897.6 3697.9 892.0 3693.0 C886.4 3688.1 874.5 3671.9 871.0 3663.0 C867.5 3654.1 862.0 3631.1 862.0 3617.0 C862.0 3602.9 868.5 3557.2 871.0 3542.0 C873.5 3526.8 878.8 3497.6 883.0 3487.0 C887.2 3476.4 902.1 3451.0 907.0 3451.0 Z" fill="url(#gW1)"/>
<circle cx="892" cy="3522" r="2.5" fill="#222"/><circle cx="902" cy="3564" r="3" fill="#222"/><ellipse cx="912" cy="3645" rx="5" ry="3" fill="#444" transform="rotate(30 912 3645)"/>
<path d="M919.0 3430.0 C922.1 3426.4 939.7 3414.4 944.0 3415.0 C948.3 3415.6 959.6 3431.2 962.0 3436.0 C964.4 3440.8 964.4 3459.1 968.0 3463.0 C971.6 3466.9 996.5 3471.4 998.0 3475.0 C999.5 3478.6 986.0 3494.7 983.0 3499.0 C980.0 3503.3 968.3 3514.3 968.0 3518.0 C967.7 3521.7 976.7 3533.6 980.0 3536.0 C983.3 3538.4 998.9 3538.4 1001.0 3542.0 C1003.1 3545.6 1006.4 3569.3 1001.0 3572.0 C995.6 3574.7 953.9 3572.0 947.0 3569.0 C940.1 3566.0 934.2 3550.2 932.0 3542.0 C929.8 3533.8 926.9 3496.1 925.0 3487.0 C923.1 3477.9 913.6 3456.7 913.0 3451.0 C912.4 3445.3 915.9 3433.6 919.0 3430.0 Z" fill="#1b1b1b"/>
<path d="M943.7 3411.7 C944.2 3406.9 963.9 3376.3 967.9 3372.4 C972.0 3368.5 989.2 3364.3 992.1 3364.8 C995.0 3365.3 1005.2 3373.0 1002.7 3378.4 C1000.2 3383.8 966.8 3427.1 961.9 3429.9 C956.9 3432.7 943.2 3416.5 943.7 3411.7 Z" fill="url(#gW2)" stroke="#b0b0b0" stroke-width="1"/>
<path d="M989.1 3363.3 C990.9 3360.1 1018.1 3358.0 1022.4 3358.8 C1026.7 3359.5 1039.8 3369.0 1040.6 3372.4 C1041.3 3375.8 1034.8 3397.6 1031.5 3399.6 C1028.2 3401.6 1004.7 3399.6 1001.2 3396.6 C997.7 3393.6 987.3 3366.4 989.1 3363.3 Z" fill="#1c1c1c"/>
<circle cx="1010.3" cy="3375.4" r="12.7" fill="#a6a6a6"/><circle cx="1012.3" cy="3375.4" r="4.8" fill="#1a1a1a"/>
<path d="M1031.5 3369.3 C1034.3 3366.7 1064.5 3365.1 1070.8 3365.7 C1077.1 3366.3 1104.3 3374.0 1107.1 3376.9 C1110.0 3379.8 1108.3 3399.0 1104.7 3400.2 C1101.2 3401.5 1070.4 3392.3 1064.8 3392.0 C1059.2 3391.8 1040.3 3399.1 1037.5 3397.2 C1034.8 3395.3 1028.7 3372.0 1031.5 3369.3 Z" fill="url(#gW2)" stroke="#b0b0b0" stroke-width="1"/>
<path d="M1067.8 3365.7 C1069.9 3364.3 1090.2 3368.8 1092.0 3370.9 C1093.8 3372.9 1091.1 3389.1 1089.0 3390.5 C1086.8 3391.9 1068.0 3389.6 1066.3 3387.5 C1064.5 3385.4 1065.7 3367.1 1067.8 3365.7 Z" fill="#1c1c1c"/>
<path d="M1107.1 3375.4 C1110.5 3374.5 1140.1 3386.4 1143.5 3389.0 C1146.8 3391.6 1149.6 3404.8 1147.1 3406.3 C1144.6 3407.7 1116.8 3406.8 1113.2 3406.3 C1109.6 3405.7 1104.0 3402.2 1103.5 3399.6 C1103.0 3397.0 1103.8 3376.3 1107.1 3375.4 Z" fill="url(#gW2)" stroke="#b0b0b0" stroke-width="1"/>
<path d="M961.9 3451.1 C963.9 3444.0 1009.8 3391.8 1016.3 3387.5 C1022.9 3383.2 1042.6 3392.6 1040.6 3399.6 C1038.5 3406.7 998.7 3468.0 992.1 3472.3 C985.6 3476.5 959.8 3458.1 961.9 3451.1 Z" fill="url(#gW2)" stroke="#b0b0b0" stroke-width="1"/>
<path d="M1016.3 3387.5 C1018.6 3383.6 1044.6 3382.0 1049.6 3383.0 C1054.7 3384.0 1074.9 3394.4 1076.9 3399.6 C1078.9 3404.8 1076.9 3440.7 1073.8 3445.0 C1070.8 3449.3 1044.8 3452.3 1040.6 3451.1 C1036.3 3449.8 1024.4 3435.2 1022.4 3429.9 C1020.4 3424.6 1014.1 3391.4 1016.3 3387.5 Z" fill="#1c1c1c"/>
<circle cx="1045.1" cy="3420.8" r="14.5" fill="#a6a6a6"/><circle cx="1047.1" cy="3420.8" r="5.5" fill="#1a1a1a"/>
<path d="M1058.7 3399.6 C1061.7 3394.8 1101.8 3385.0 1107.1 3387.5 C1112.5 3390.0 1125.9 3425.0 1122.9 3429.9 C1119.9 3434.7 1076.2 3448.1 1070.8 3445.6 C1065.5 3443.1 1055.7 3404.5 1058.7 3399.6 Z" fill="url(#gW2)" stroke="#b0b0b0" stroke-width="1"/>
<path d="M1105.6 3387.5 C1106.8 3384.9 1131.5 3392.3 1134.4 3395.1 C1137.3 3397.8 1141.6 3418.2 1140.4 3420.8 C1139.3 3423.4 1123.7 3429.6 1120.8 3426.9 C1117.9 3424.1 1104.5 3390.2 1105.6 3387.5 Z" fill="#1c1c1c"/>
<path d="M1125.3 3408.1 C1129.6 3406.5 1173.4 3412.3 1179.8 3414.1 C1186.1 3416.0 1200.3 3427.3 1201.6 3429.9 C1202.8 3432.5 1198.7 3444.8 1194.9 3445.6 C1191.1 3446.4 1161.1 3440.6 1155.6 3439.6 C1150.0 3438.6 1130.9 3436.1 1128.3 3433.5 C1125.8 3430.9 1121.0 3409.7 1125.3 3408.1 Z" fill="url(#gW2)" stroke="#b0b0b0" stroke-width="1"/>
<path d="M967.9 3523.7 C967.9 3516.4 1009.3 3466.2 1016.3 3460.1 C1023.4 3454.1 1050.6 3448.8 1052.7 3451.1 C1054.7 3453.3 1044.2 3479.3 1041.2 3487.4 C1038.1 3495.5 1022.4 3544.9 1016.3 3547.9 C1010.2 3550.9 967.9 3531.0 967.9 3523.7 Z" fill="url(#gW2)" stroke="#b0b0b0" stroke-width="1"/>
<path d="M1016.3 3460.1 C1018.9 3456.0 1047.5 3449.3 1052.7 3449.6 C1057.8 3449.8 1076.4 3458.0 1078.4 3463.2 C1080.4 3468.3 1080.0 3506.6 1076.9 3511.6 C1073.7 3516.6 1045.1 3524.7 1040.6 3523.7 C1036.0 3522.7 1024.4 3504.8 1022.4 3499.5 C1020.4 3494.2 1013.8 3464.3 1016.3 3460.1 Z" fill="#1c1c1c"/>
<circle cx="1045.1" cy="3495.0" r="12.7" fill="#a6a6a6"/><circle cx="1047.1" cy="3495.0" r="4.8" fill="#1a1a1a"/>
<path d="M1055.7 3451.1 C1058.2 3445.5 1094.0 3441.0 1098.1 3445.0 C1102.1 3449.0 1107.2 3493.9 1104.7 3499.5 C1102.2 3505.1 1071.9 3516.2 1067.8 3512.2 C1063.7 3508.2 1053.2 3456.7 1055.7 3451.1 Z" fill="url(#gW2)" stroke="#b0b0b0" stroke-width="1"/>
<path d="M1097.5 3446.5 C1100.1 3444.3 1131.4 3445.9 1134.4 3448.0 C1137.4 3450.2 1136.4 3470.0 1133.8 3472.3 C1131.1 3474.5 1105.6 3477.4 1102.6 3475.3 C1099.6 3473.1 1094.8 3448.8 1097.5 3446.5 Z" fill="#1c1c1c"/>
<path d="M1107.1 3472.3 C1109.2 3467.5 1130.3 3450.9 1134.4 3448.6 C1138.4 3446.4 1149.8 3444.3 1155.6 3445.0 C1161.4 3445.7 1199.7 3454.1 1204.0 3457.1 C1208.3 3460.1 1208.1 3478.0 1207.6 3481.3 C1207.1 3484.7 1202.0 3495.5 1197.9 3497.1 C1193.9 3498.6 1165.9 3499.3 1158.6 3500.1 C1151.3 3500.9 1114.5 3508.5 1110.2 3506.2 C1105.9 3503.8 1105.1 3477.0 1107.1 3472.3 Z" fill="url(#gW2)" stroke="#b0b0b0" stroke-width="1"/>
<path d="M2148 3839 L2148 3872 L2138 3880 L2134 3892 L2100 3905 L2040 3908 L2030 3896 L2016 3892 L2004 3878 Z" fill="#a9a9a9"/>
<path d="M1962.0 3748.0 C1966.1 3742.8 1988.6 3738.0 2000.0 3735.0 C2011.4 3732.0 2046.0 3724.6 2060.0 3722.0 C2074.0 3719.4 2111.2 3708.6 2120.0 3713.0 C2128.8 3717.4 2131.7 3745.3 2135.0 3760.0 C2138.3 3774.7 2147.4 3825.9 2148.0 3839.0 C2148.6 3852.1 2145.6 3865.8 2140.0 3872.0 C2134.4 3878.2 2111.7 3889.2 2100.0 3892.0 C2088.3 3894.8 2051.2 3897.6 2040.0 3896.0 C2028.8 3894.4 2010.4 3885.7 2004.0 3878.0 C1997.6 3870.3 1989.5 3841.4 1985.0 3830.0 C1980.5 3818.6 1967.7 3789.6 1965.0 3780.0 C1962.3 3770.4 1957.9 3753.2 1962.0 3748.0 Z" fill="url(#gW1)"/>
<path d="M1962 3748 Q1990 3715 2050 3700 Q2100 3692 2120 3713 Q2118 3745 2080 3768 Q2020 3790 1985 3785 Q1960 3770 1962 3748 Z" fill="#444"/>
<path d="M1962.0 3716.0 L2021.0 3702.0 L2056.0 3646.0 L2070.0 3639.0 L2098.0 3681.0 L2106.0 3709.0 L2106.0 3769.0 L1986.0 3783.0 L1965.0 3769.0 Z" fill="#1d1d1d"/>
<path d="M1985 3725 L2080 3712 L2085 3750 L1990 3765 Z" fill="#2e2e2e"/>
<path d="M1930 3670 L1985 3665 L2010 3700 L1990 3730 L1950 3728 L1925 3700 Z" fill="#b4b6b6"/><path d="M1930 3690 Q1950 3680 1975 3700 L1950 3722 Z" fill="#dedede"/>
<path d="M1997.0 3699.0 C1995.2 3705.0 1959.1 3724.9 1951.0 3727.0 C1942.9 3729.1 1928.3 3722.5 1916.0 3720.0 C1903.7 3717.5 1840.6 3709.4 1828.0 3702.0 C1815.4 3694.6 1798.1 3656.5 1790.0 3646.0 C1781.9 3635.5 1755.1 3604.7 1747.0 3597.0 C1738.9 3589.3 1712.1 3573.9 1709.0 3569.0 C1705.9 3564.1 1712.2 3550.8 1716.0 3548.0 C1719.8 3545.2 1741.1 3540.0 1747.0 3541.0 C1752.9 3542.0 1771.4 3554.5 1775.0 3558.0 C1778.6 3561.5 1778.0 3571.1 1783.0 3576.0 C1788.0 3580.9 1818.0 3600.0 1825.0 3607.0 C1832.0 3614.0 1843.9 3640.3 1853.0 3646.0 C1862.1 3651.7 1904.4 3661.9 1916.0 3664.0 C1927.6 3666.1 1960.9 3663.5 1969.0 3667.0 C1977.1 3670.5 1998.8 3693.0 1997.0 3699.0 Z" fill="url(#gW2)" stroke="#b0b0b0" stroke-width="1"/>
<path d="M1709 3569 L1705 3555 L1726 3541 L1754 3576 L1740 3590 Z" fill="#1c1c1c"/>
<g fill="none" stroke="#8a8a8a" stroke-width="2.5"><path d="M1835 3700 L1858 3650"/><path d="M1770 3620 L1800 3590"/></g>
<path d="M2014.0 3442.0 C2018.1 3439.6 2036.6 3465.4 2042.0 3477.0 C2047.4 3488.6 2057.6 3525.4 2060.0 3541.0 C2062.4 3556.6 2063.5 3597.9 2063.0 3611.0 C2062.5 3624.1 2059.3 3642.7 2056.0 3653.0 C2052.7 3663.3 2039.9 3692.5 2035.0 3699.0 C2030.1 3705.5 2019.7 3712.7 2014.0 3709.0 C2008.3 3705.3 1995.5 3674.3 1986.0 3667.0 C1976.5 3659.7 1941.2 3651.7 1933.0 3646.0 C1924.8 3640.3 1918.0 3626.2 1916.0 3618.0 C1914.0 3609.8 1914.8 3581.4 1916.0 3576.0 C1917.2 3570.6 1918.7 3572.0 1926.0 3572.0 C1933.3 3572.0 1970.7 3578.8 1979.0 3576.0 C1987.3 3573.2 1993.7 3557.1 1997.0 3548.0 C2000.3 3538.9 2005.0 3510.4 2007.0 3498.0 C2009.0 3485.6 2009.9 3444.4 2014.0 3442.0 Z" fill="url(#gW1)"/>
<circle cx="2032" cy="3520" r="2.5" fill="#222"/><circle cx="2020" cy="3562" r="3" fill="#222"/><ellipse cx="2012" cy="3645" rx="5" ry="3" fill="#444" transform="rotate(-30 2012 3645)"/>
<path d="M1976.0 3411.0 C1981.3 3408.2 2000.5 3414.5 2004.0 3418.0 C2007.5 3421.5 2010.7 3438.0 2011.0 3446.0 C2011.3 3454.0 2008.4 3487.8 2007.0 3498.0 C2005.6 3508.2 1999.8 3540.2 1997.0 3548.0 C1994.2 3555.8 1986.1 3573.6 1979.0 3576.0 C1971.9 3578.4 1932.0 3574.8 1926.0 3572.0 C1920.0 3569.2 1916.5 3552.5 1919.0 3548.0 C1921.5 3543.5 1947.1 3532.3 1951.0 3527.0 C1954.9 3521.7 1960.1 3500.7 1958.0 3495.0 C1955.9 3489.3 1930.7 3474.9 1930.0 3470.0 C1929.3 3465.1 1946.4 3451.9 1951.0 3446.0 C1955.6 3440.1 1970.7 3413.8 1976.0 3411.0 Z" fill="#1b1b1b"/>
<path d="M1639.0 3513.0 C1642.5 3503.7 1657.2 3489.8 1670.0 3485.0 C1682.8 3480.2 1699.7 3482.3 1716.0 3484.0 C1732.3 3485.7 1754.5 3489.7 1768.0 3495.0 C1781.5 3500.3 1792.2 3507.8 1797.0 3516.0 C1801.8 3524.2 1800.7 3536.3 1797.0 3544.0 C1793.3 3551.7 1784.5 3560.2 1775.0 3562.0 C1765.5 3563.8 1749.8 3556.8 1740.0 3555.0 C1730.2 3553.2 1725.8 3551.0 1716.0 3551.0 C1706.2 3551.0 1692.2 3556.7 1681.0 3555.0 C1669.8 3553.3 1656.0 3548.0 1649.0 3541.0 C1642.0 3534.0 1635.5 3522.3 1639.0 3513.0 Z" fill="url(#gSb)"/><path d="M1639.0 3513.0 C1642.5 3503.7 1657.2 3489.8 1670.0 3485.0 C1682.8 3480.2 1699.7 3482.3 1716.0 3484.0 C1732.3 3485.7 1754.5 3489.7 1768.0 3495.0 C1781.5 3500.3 1792.2 3507.8 1797.0 3516.0 C1801.8 3524.2 1800.7 3536.3 1797.0 3544.0 C1793.3 3551.7 1784.5 3560.2 1775.0 3562.0 C1765.5 3563.8 1749.8 3556.8 1740.0 3555.0 C1730.2 3553.2 1725.8 3551.0 1716.0 3551.0 C1706.2 3551.0 1692.2 3556.7 1681.0 3555.0 C1669.8 3553.3 1656.0 3548.0 1649.0 3541.0 C1642.0 3534.0 1635.5 3522.3 1639.0 3513.0 Z" fill="url(#pSb)"/>
<g stroke="#6ea82c" stroke-linecap="round" fill="none">
<path d="M1668.0 3462.0 Q1691.2 3471.0 1713.8 3464.1" stroke-width="13.0"/>
<path d="M1668.0 3462.0 Q1679.5 3482.7 1701.6 3490.7" stroke-width="13.6"/>
<path d="M1668.0 3462.0 Q1674.0 3482.2 1692.0 3493.1" stroke-width="13.7"/>
<path d="M1668.0 3462.0 Q1654.0 3482.9 1658.3 3505.6" stroke-width="9.6"/>
<path d="M1668.0 3462.0 Q1649.9 3471.5 1643.5 3488.7" stroke-width="11.7"/>
<path d="M1668.0 3462.0 Q1649.3 3460.4 1634.9 3470.0" stroke-width="10.1"/>
<path d="M1668.0 3462.0 Q1645.1 3449.2 1620.3 3453.2" stroke-width="12.8"/>
<path d="M1668.0 3462.0 Q1655.7 3441.2 1632.9 3433.6" stroke-width="9.7"/>
<path d="M1668.0 3462.0 Q1673.0 3444.4 1664.6 3429.0" stroke-width="9.0"/>
<path d="M1668.0 3462.0 Q1684.4 3450.7 1688.4 3433.2" stroke-width="10.1"/>
<path d="M1668.0 3462.0 Q1694.4 3461.3 1712.6 3445.7" stroke-width="10.4"/>
</g>
<ellipse cx="1668.0" cy="3462.0" rx="22.0" ry="20.2" fill="#6ea82c"/>
<path d="M1979.2 3410.7 C1978.9 3405.5 1955.2 3373.0 1951.1 3368.6 C1947.0 3364.2 1932.9 3357.8 1930.0 3358.1 C1927.1 3358.4 1913.9 3366.0 1916.0 3372.1 C1918.0 3378.3 1949.3 3428.6 1954.6 3431.8 C1959.9 3435.0 1979.5 3416.0 1979.2 3410.7 Z" fill="url(#gW2)" stroke="#b0b0b0" stroke-width="1"/>
<path d="M1937.0 3358.1 C1935.3 3354.6 1906.6 3350.5 1901.9 3351.1 C1897.3 3351.7 1881.7 3361.3 1880.9 3365.1 C1880.0 3368.9 1887.9 3394.4 1891.4 3396.7 C1894.9 3399.0 1919.2 3396.4 1923.0 3393.2 C1926.8 3390.0 1938.8 3361.6 1937.0 3358.1 Z" fill="#1c1c1c"/>
<circle cx="1912.5" cy="3366.9" r="13.3" fill="#a6a6a6"/><circle cx="1910.5" cy="3366.9" r="5.1" fill="#1a1a1a"/>
<path d="M1898.4 3354.6 C1895.5 3351.8 1866.5 3352.8 1859.8 3353.9 C1853.1 3355.0 1820.6 3364.9 1817.7 3367.9 C1814.7 3371.0 1820.6 3389.2 1824.7 3390.4 C1828.8 3391.6 1861.0 3383.0 1866.8 3382.7 C1872.7 3382.4 1892.3 3389.2 1894.9 3386.9 C1897.5 3384.5 1901.3 3357.3 1898.4 3354.6 Z" fill="url(#gW2)" stroke="#b0b0b0" stroke-width="1"/>
<path d="M1861.6 3353.9 C1859.5 3352.3 1840.3 3357.4 1838.7 3359.8 C1837.1 3362.2 1840.2 3381.1 1842.2 3382.7 C1844.3 3384.3 1861.7 3381.6 1863.3 3379.2 C1864.9 3376.8 1863.6 3355.5 1861.6 3353.9 Z" fill="#1c1c1c"/>
<path d="M1817.7 3368.6 C1813.5 3368.0 1779.3 3380.0 1775.5 3382.7 C1771.7 3385.4 1769.1 3399.4 1772.0 3400.9 C1775.0 3402.4 1806.2 3401.8 1810.7 3400.9 C1815.1 3400.0 1824.8 3393.1 1825.4 3390.4 C1826.0 3387.7 1821.8 3369.3 1817.7 3368.6 Z" fill="url(#gW2)" stroke="#b0b0b0" stroke-width="1"/>
<path d="M1954.6 3445.9 C1952.5 3438.8 1911.6 3390.3 1905.4 3386.2 C1899.3 3382.1 1878.8 3389.7 1880.9 3396.7 C1882.9 3403.7 1923.9 3466.3 1930.0 3470.4 C1936.2 3474.5 1956.6 3452.9 1954.6 3445.9 Z" fill="url(#gW2)" stroke="#b0b0b0" stroke-width="1"/>
<path d="M1905.4 3386.2 C1903.1 3381.8 1875.6 3378.3 1870.3 3379.2 C1865.1 3380.0 1844.3 3391.1 1842.2 3396.7 C1840.2 3402.3 1842.5 3441.2 1845.8 3445.9 C1849.0 3450.5 1876.5 3454.1 1880.9 3452.9 C1885.3 3451.7 1896.4 3437.4 1898.4 3431.8 C1900.5 3426.3 1907.8 3390.6 1905.4 3386.2 Z" fill="#1c1c1c"/>
<circle cx="1877.4" cy="3416.0" r="14.7" fill="#a6a6a6"/><circle cx="1875.4" cy="3416.0" r="5.6" fill="#1a1a1a"/>
<path d="M1859.8 3393.2 C1857.2 3388.2 1819.4 3380.0 1814.2 3382.7 C1808.9 3385.4 1794.0 3420.5 1796.6 3425.5 C1799.2 3430.5 1840.5 3445.7 1845.8 3443.0 C1851.0 3440.4 1862.4 3398.2 1859.8 3393.2 Z" fill="url(#gW2)" stroke="#b0b0b0" stroke-width="1"/>
<path d="M1814.9 3382.7 C1813.7 3379.9 1788.9 3388.4 1786.1 3391.4 C1783.2 3394.5 1779.6 3416.7 1780.8 3419.5 C1782.0 3422.3 1797.3 3427.9 1800.1 3424.8 C1803.0 3421.7 1816.0 3385.4 1814.9 3382.7 Z" fill="#1c1c1c"/>
<path d="M1789.6 3400.2 C1784.9 3398.4 1746.3 3405.2 1740.4 3407.2 C1734.6 3409.3 1720.8 3421.8 1719.4 3424.8 C1717.9 3427.8 1719.1 3441.8 1722.9 3443.0 C1726.7 3444.3 1758.9 3440.7 1765.0 3439.5 C1771.2 3438.4 1794.6 3432.3 1796.6 3429.0 C1798.7 3425.7 1794.3 3402.0 1789.6 3400.2 Z" fill="url(#gW2)" stroke="#b0b0b0" stroke-width="1"/>
<path d="M1951.1 3526.6 C1950.5 3519.2 1909.0 3466.0 1901.9 3459.9 C1894.9 3453.8 1868.9 3450.5 1866.8 3452.9 C1864.8 3455.3 1873.8 3480.7 1877.4 3488.7 C1880.9 3496.6 1902.8 3545.2 1909.0 3548.4 C1915.1 3551.5 1951.7 3534.0 1951.1 3526.6 Z" fill="url(#gW2)" stroke="#b0b0b0" stroke-width="1"/>
<path d="M1901.9 3459.9 C1899.6 3455.5 1871.8 3449.1 1866.8 3449.4 C1861.9 3449.7 1844.3 3457.9 1842.2 3463.4 C1840.2 3469.0 1839.3 3510.8 1842.2 3516.1 C1845.2 3521.3 1873.0 3527.8 1877.4 3526.6 C1881.7 3525.4 1892.9 3507.6 1894.9 3502.0 C1897.0 3496.5 1904.3 3464.3 1901.9 3459.9 Z" fill="#1c1c1c"/>
<circle cx="1877.4" cy="3489.7" r="13.3" fill="#a6a6a6"/><circle cx="1875.4" cy="3489.7" r="5.1" fill="#1a1a1a"/>
<path d="M1863.3 3449.4 C1861.0 3443.8 1828.5 3438.5 1824.7 3442.3 C1820.9 3446.2 1815.3 3490.1 1817.7 3495.7 C1820.0 3501.3 1849.0 3513.6 1852.8 3509.8 C1856.6 3505.9 1865.7 3455.0 1863.3 3449.4 Z" fill="url(#gW2)" stroke="#b0b0b0" stroke-width="1"/>
<path d="M1825.4 3443.0 C1822.9 3440.7 1794.1 3443.6 1791.3 3445.9 C1788.6 3448.1 1789.9 3468.1 1792.4 3470.4 C1794.9 3472.8 1818.4 3476.2 1821.2 3473.9 C1823.9 3471.7 1827.9 3445.4 1825.4 3443.0 Z" fill="#1c1c1c"/>
<path d="M1814.2 3470.4 C1812.4 3466.0 1794.0 3448.9 1789.6 3446.6 C1785.2 3444.2 1768.2 3441.8 1761.5 3442.3 C1754.8 3442.9 1713.5 3450.0 1708.8 3452.9 C1704.2 3455.8 1704.7 3473.9 1705.3 3477.5 C1705.9 3481.0 1711.5 3493.5 1715.9 3495.0 C1720.2 3496.5 1750.1 3495.4 1758.0 3495.7 C1765.9 3496.1 1806.0 3501.3 1810.7 3499.2 C1815.3 3497.1 1815.9 3474.8 1814.2 3470.4 Z" fill="url(#gW2)" stroke="#b0b0b0" stroke-width="1"/>
<g fill="#4a7fd6" stroke="#4a7fd6" stroke-width="6">
<path d="M1653.7 3806 L1653.7 3760" fill="none"/><path d="M1653.7 3733 L1668 3764 L1639.4 3764 Z" stroke="none"/>
<path d="M1574.3 3970 L1552 3990" fill="none"/><path d="M1525.3 4013.6 L1539.8 3981.8 L1559.8 4003.6 Z" stroke="none"/>
<path d="M1758 3977 L1782 3997" fill="none"/><path d="M1805 4016.6 L1772 4008 L1791 3985 Z" stroke="none"/>
</g>
<path d="M1540.0 3930.0 C1541.3 3922.4 1568.8 3919.5 1580.0 3915.0 C1591.2 3910.5 1612.7 3897.3 1624.0 3896.0 C1635.3 3894.7 1654.9 3900.2 1665.0 3905.0 C1675.1 3909.8 1690.0 3928.9 1700.0 3932.0 C1710.0 3935.1 1730.3 3925.6 1740.0 3928.0 C1749.7 3930.4 1774.3 3941.7 1773.0 3950.0 C1771.7 3958.3 1742.4 3979.6 1730.0 3990.0 C1717.6 4000.4 1691.3 4026.4 1680.0 4028.0 C1668.7 4029.6 1654.3 4007.1 1645.0 4002.0 C1635.7 3996.9 1620.0 3994.0 1610.0 3990.0 C1600.0 3986.0 1579.3 3980.0 1570.0 3972.0 C1560.7 3964.0 1538.7 3937.6 1540.0 3930.0 Z" fill="#6fb876" transform="translate(0 8)"/>
<path d="M1540.0 3930.0 C1541.3 3922.4 1568.8 3919.5 1580.0 3915.0 C1591.2 3910.5 1612.7 3897.3 1624.0 3896.0 C1635.3 3894.7 1654.9 3900.2 1665.0 3905.0 C1675.1 3909.8 1690.0 3928.9 1700.0 3932.0 C1710.0 3935.1 1730.3 3925.6 1740.0 3928.0 C1749.7 3930.4 1774.3 3941.7 1773.0 3950.0 C1771.7 3958.3 1742.4 3979.6 1730.0 3990.0 C1717.6 4000.4 1691.3 4026.4 1680.0 4028.0 C1668.7 4029.6 1654.3 4007.1 1645.0 4002.0 C1635.7 3996.9 1620.0 3994.0 1610.0 3990.0 C1600.0 3986.0 1579.3 3980.0 1570.0 3972.0 C1560.7 3964.0 1538.7 3937.6 1540.0 3930.0 Z" fill="#9aa79d" transform="translate(0 3)"/>
<path d="M1540.0 3930.0 C1541.3 3922.4 1568.8 3919.5 1580.0 3915.0 C1591.2 3910.5 1612.7 3897.3 1624.0 3896.0 C1635.3 3894.7 1654.9 3900.2 1665.0 3905.0 C1675.1 3909.8 1690.0 3928.9 1700.0 3932.0 C1710.0 3935.1 1730.3 3925.6 1740.0 3928.0 C1749.7 3930.4 1774.3 3941.7 1773.0 3950.0 C1771.7 3958.3 1742.4 3979.6 1730.0 3990.0 C1717.6 4000.4 1691.3 4026.4 1680.0 4028.0 C1668.7 4029.6 1654.3 4007.1 1645.0 4002.0 C1635.7 3996.9 1620.0 3994.0 1610.0 3990.0 C1600.0 3986.0 1579.3 3980.0 1570.0 3972.0 C1560.7 3964.0 1538.7 3937.6 1540.0 3930.0 Z" fill="#8fd394" transform="translate(0 -6)"/>
<path d="M1600 3962 Q1640 3950 1668 3972 Q1700 3960 1740 3968 L1690 4008 Q1650 3985 1610 3980 Z" fill="#6f8a76" opacity=".7"/>
<path d="M1540 3924 Q1580 3908 1624 3890 Q1665 3900 1700 3926 Q1740 3922 1773 3944 Q1755 3958 1738 3968 Q1700 3946 1668 3958 Q1640 3932 1600 3946 Q1570 3942 1540 3924 Z" fill="#93d798"/>
<path d="M1544.5 3833.0 C1547.2 3828.3 1584.1 3818.6 1600.0 3815.0 C1615.9 3811.4 1650.7 3805.1 1664.0 3806.0 C1677.3 3806.9 1690.1 3819.1 1700.0 3822.0 C1709.9 3824.9 1728.7 3824.9 1738.0 3828.0 C1747.3 3831.1 1762.7 3839.7 1770.0 3845.0 C1777.3 3850.3 1797.0 3861.3 1793.0 3868.0 C1789.0 3874.7 1753.3 3888.1 1740.0 3895.0 C1726.7 3901.9 1703.0 3920.0 1693.0 3920.0 C1683.0 3920.0 1674.2 3901.9 1665.0 3895.0 C1655.8 3888.1 1635.3 3874.0 1624.0 3868.0 C1612.7 3862.0 1590.6 3854.7 1580.0 3850.0 C1569.4 3845.3 1541.8 3837.7 1544.5 3833.0 Z" fill="#d98b1e" transform="translate(0 16)"/>
<path d="M1544.5 3833.0 C1547.2 3828.3 1584.1 3818.6 1600.0 3815.0 C1615.9 3811.4 1650.7 3805.1 1664.0 3806.0 C1677.3 3806.9 1690.1 3819.1 1700.0 3822.0 C1709.9 3824.9 1728.7 3824.9 1738.0 3828.0 C1747.3 3831.1 1762.7 3839.7 1770.0 3845.0 C1777.3 3850.3 1797.0 3861.3 1793.0 3868.0 C1789.0 3874.7 1753.3 3888.1 1740.0 3895.0 C1726.7 3901.9 1703.0 3920.0 1693.0 3920.0 C1683.0 3920.0 1674.2 3901.9 1665.0 3895.0 C1655.8 3888.1 1635.3 3874.0 1624.0 3868.0 C1612.7 3862.0 1590.6 3854.7 1580.0 3850.0 C1569.4 3845.3 1541.8 3837.7 1544.5 3833.0 Z" fill="#2140c4" transform="translate(0 9)"/>
<path d="M1544.5 3833.0 C1547.2 3828.3 1584.1 3818.6 1600.0 3815.0 C1615.9 3811.4 1650.7 3805.1 1664.0 3806.0 C1677.3 3806.9 1690.1 3819.1 1700.0 3822.0 C1709.9 3824.9 1728.7 3824.9 1738.0 3828.0 C1747.3 3831.1 1762.7 3839.7 1770.0 3845.0 C1777.3 3850.3 1797.0 3861.3 1793.0 3868.0 C1789.0 3874.7 1753.3 3888.1 1740.0 3895.0 C1726.7 3901.9 1703.0 3920.0 1693.0 3920.0 C1683.0 3920.0 1674.2 3901.9 1665.0 3895.0 C1655.8 3888.1 1635.3 3874.0 1624.0 3868.0 C1612.7 3862.0 1590.6 3854.7 1580.0 3850.0 C1569.4 3845.3 1541.8 3837.7 1544.5 3833.0 Z" fill="#f2bb4e"/>
<path d="M1664 3808 Q1690 3840 1740 3860" stroke="#e0a030" stroke-width="5" fill="none" opacity=".6"/>
</g>
<!-- 90_text.svg -->
<text transform="translate(-1.3 58) scale(0.9658 1)" font-size="67" fill="#000">A</text>
<text transform="translate(0.9 1592) scale(0.8373 1)" font-size="67" fill="#000">B</text>
<text transform="translate(128.4 1599.5) scale(1.0265 1)" font-size="79" fill="#000">(I)</text>
<text transform="translate(1938.1 333) scale(0.8657 1)" font-size="98" fill="#000">…</text>
<text transform="translate(2021.7 333) scale(0.9932 1)" font-size="98" fill="#000">I</text>
<text transform="translate(2070.7 333) scale(0.9932 1)" font-size="98" fill="#000">have</text>
<text transform="translate(2322.2 333) scale(0.8560 1)" font-size="98" fill="#000">a</text>
<text transform="translate(2402.9 333) scale(1.0016 1)" font-size="98" fill="#000">feeling</text>
<text transform="translate(2077.7 466.7) scale(0.9615 1)" font-size="98" fill="#FF0000">transcends</text>
<text transform="translate(2008.9 600.4) scale(0.8560 1)" font-size="98" fill="#000">a</text>
<text transform="translate(2084.5 600.4) scale(1.0146 1)" font-size="98" fill="#000">human</text>
<text transform="translate(2438.3 600.4) scale(1.0069 1)" font-size="98" fill="#000">hand</text>
<text transform="translate(1843.4 972) scale(0.8657 1)" font-size="98" fill="#000">…</text>
<text transform="translate(1927.0 972) scale(0.9932 1)" font-size="98" fill="#000">I</text>
<text transform="translate(1979.9 972) scale(0.9606 1)" font-size="98" fill="#000">can</text>
<text transform="translate(2165.4 972) scale(0.9446 1)" font-size="98" fill="#000">also</text>
<text transform="translate(2377.4 972) scale(1.0118 1)" font-size="98" fill="#FF0000">quantify</text>
<text transform="translate(1926.5 1106) scale(1.0373 1)" font-size="98" fill="#000">the</text>
<text transform="translate(2105.2 1106) scale(0.9492 1)" font-size="98" fill="#FF0000">softness</text>
<text transform="translate(2515.4 1106) scale(0.9896 1)" font-size="98" fill="#000">and</text>
<text transform="translate(1900.8 1240) scale(1.0138 1)" font-size="98" fill="#FF0000">texture</text>
<text transform="translate(2260.5 1240) scale(0.9366 1)" font-size="98" fill="#000">of</text>
<text transform="translate(2376.6 1240) scale(0.9839 1)" font-size="98" fill="#000">objects</text>
<text transform="translate(438.5 1608.5) scale(0.9387 1)" font-size="81" fill="#000">Bionic</text>
<text transform="translate(695.7 1608.5) scale(0.9923 1)" font-size="81" fill="#000">electronic</text>
<text transform="translate(1094.0 1608.5) scale(0.9714 1)" font-size="81" fill="#000">skin</text>
<text transform="translate(2092.7 1588.7) scale(1.0215 1)" font-size="81" fill="#000">Human</text>
<text transform="translate(2395.7 1588.7) scale(0.9474 1)" font-size="81" fill="#000">skin</text>
<text transform="translate(1051.0 3066) scale(1.0814 1)" font-size="78" fill="#000">(II)</text>
<text transform="translate(1221.6 3066) scale(0.9921 1)" font-size="79" fill="#000">Stable</text>
<text transform="translate(1481.0 3066) scale(1.0150 1)" font-size="79" fill="#000">grasping</text>
<text transform="translate(164.7 1854.6) scale(0.9722 1)" font-size="63" fill="#0070C0">Piezoelectric</text>
<text transform="translate(279.3 1925.4) scale(0.9891 1)" font-size="63" fill="#0070C0">layer</text>
<text transform="translate(158.4 2094.6) scale(0.9614 1)" font-size="63" fill="#7030A0">Piezoresistive</text>
<text transform="translate(287.2 2165.7) scale(0.9835 1)" font-size="63" fill="#7030A0">layer</text>
<text transform="translate(1128.8 1849.2) scale(0.9993 1)" font-size="63" fill="#0070C0">Dynamic</text>
<text transform="translate(1407.8 1849.2) scale(1.0099 1)" font-size="63" fill="#0070C0">stimuli</text>
<text transform="translate(1628.2 1849.2) scale(0.9611 1)" font-size="63" fill="#0070C0">sensing</text>
<text transform="translate(1201.2 2088.5) scale(0.9719 1)" font-size="63" fill="#7030A0">Static</text>
<text transform="translate(1384.5 2088.5) scale(1.0176 1)" font-size="63" fill="#7030A0">stimuli</text>
<text transform="translate(1605.4 2088.5) scale(0.9615 1)" font-size="63" fill="#7030A0">sensing</text>
<text transform="translate(2562.9 1812.9) scale(1.0073 1)" font-size="63" fill="#0070C0">Fast-adapting</text>
<text transform="translate(2664.4 1884.4) scale(1.0803 1)" font-size="51" fill="#0070C0">(MC,</text>
<text transform="translate(2794.7 1884.4) scale(0.9383 1)" font-size="51" fill="#0070C0">PC)</text>
<text transform="translate(2553.2 2061.3) scale(1.0140 1)" font-size="63" fill="#7030A0">Slow-adapting</text>
<text transform="translate(2661.6 2131.5) scale(1.1184 1)" font-size="51" fill="#7030A0">(MD,</text>
<text transform="translate(2797.5 2131.5) scale(0.9072 1)" font-size="51" fill="#7030A0">RC)</text>
<text transform="translate(1931.3 2029) scale(1.2348 1)" font-size="34" fill="#000">MD</text>
<text transform="translate(2008.2 2006) scale(0.9875 1)" font-size="34" fill="#000">RC</text>
<text transform="translate(2002.8 2065) scale(0.9751 1)" font-size="34" fill="#000">PC</text>
<text transform="translate(2137.5 2072) scale(1.1459 1)" font-size="34" fill="#000">MC</text>
<text transform="translate(451.8 2953) scale(1.0558 1)" font-size="50" fill="#000">Deep</text>
<text transform="translate(599.4 2953) scale(1.0808 1)" font-size="50" fill="#000">neural</text>
<text transform="translate(500.0 3013.6) scale(1.0989 1)" font-size="50" fill="#000">network</text>
<text transform="translate(2039.9 2948.3) scale(1.0409 1)" font-size="50" fill="#000">Central</text>
<text transform="translate(2239.8 2948.3) scale(1.0578 1)" font-size="50" fill="#000">nervous</text>
<text transform="translate(2157.4 3010.2) scale(1.0642 1)" font-size="50" fill="#000">system</text>
<text transform="translate(837.4 3224.9) scale(0.9885 1)" font-size="61" fill="#0070C0">No</text>
<text transform="translate(936.5 3224.9) scale(0.9923 1)" font-size="61" fill="#0070C0">softness</text>
<text transform="translate(849.8 3293.2) scale(1.0390 1)" font-size="61" fill="#0070C0">perception</text>
<text transform="translate(835.4 3956.2) scale(0.9752 1)" font-size="61" fill="#0070C0">No</text>
<text transform="translate(936.7 3956.2) scale(1.0553 1)" font-size="61" fill="#0070C0">texture</text>
<text transform="translate(834.4 4026.1) scale(1.0354 1)" font-size="61" fill="#0070C0">perception</text>
<text transform="translate(1287.4 3390) scale(1.0985 1)" font-size="50" fill="#000">Harm</text>
<text transform="translate(1250.1 4048.8) scale(0.9918 1)" font-size="54" fill="#000">Slippage</text>
<text transform="translate(1584.2 3223.7) scale(1.0039 1)" font-size="60" fill="#C00000">Softness</text>
<text transform="translate(1855.6 3223.7) scale(1.0551 1)" font-size="60" fill="#C00000">and</text>
<text transform="translate(1985.6 3223.7) scale(1.0850 1)" font-size="60" fill="#C00000">texture</text>
<text transform="translate(1721.5 3293.2) scale(1.0655 1)" font-size="60" fill="#C00000">recognition</text>
<text transform="translate(1828.0 3975.9) scale(1.0110 1)" font-size="51" fill="#C00000">Normal</text>
<text transform="translate(2018.8 3975.9) scale(0.9647 1)" font-size="51" fill="#C00000">and</text>
<text transform="translate(2118.6 3975.9) scale(0.9589 1)" font-size="51" fill="#C00000">shear</text>
<text transform="translate(1869.0 4031.5) scale(0.9121 1)" font-size="51" fill="#C00000">force</text>
<text transform="translate(2003.0 4031.5) scale(0.9563 1)" font-size="51" fill="#C00000">feedback</text>
<text transform="translate(235.8 1260.2) rotate(-90) scale(0.9377 1)" font-size="125">Adaptive</text>
<text transform="translate(235.8 732.6) rotate(-90) scale(0.9009 1)" font-size="125">grasping</text>
<text transform="translate(1634.5 3718.8) scale(0.9982 1)" font-size="52" fill="#000" class="ser">z</text>
<text transform="translate(1533.5 4052) scale(1.0917 1)" font-size="52" fill="#000" class="ser">x</text>
<text transform="translate(1782.1 4041.4) scale(0.9771 1)" font-size="52" fill="#000" class="ser">y</text>
</svg>
</body></html>
